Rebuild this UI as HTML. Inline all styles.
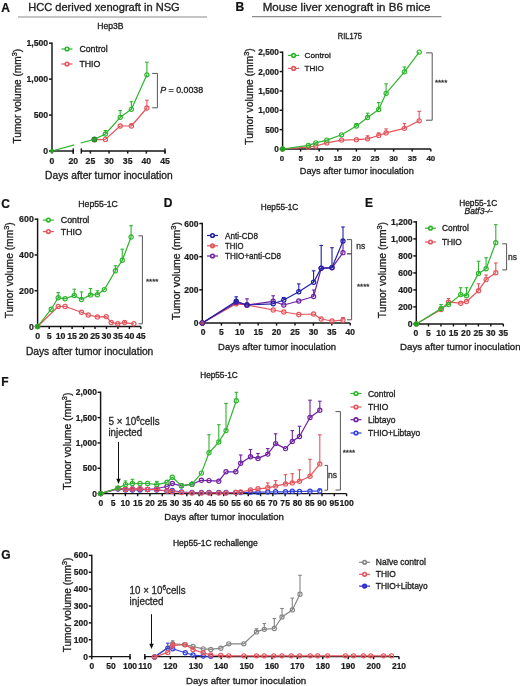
<!DOCTYPE html>
<html><head><meta charset="utf-8"><title>Figure</title>
<style>
html,body{margin:0;padding:0;background:#fff;}
body{width:520px;height:686px;overflow:hidden;}
svg{display:block;filter:blur(0.45px);}
text{font-family:"Liberation Sans", Arial, Helvetica, sans-serif;}
</style></head>
<body>
<svg width="520" height="686" viewBox="0 0 520 686">
<rect width="520" height="686" fill="#fff"/>
<text x="1.20" y="11.50" font-size="12" font-weight="bold" fill="#111" stroke="#111" stroke-width="0.22" >A</text>
<text x="28.20" y="10.80" font-size="11" fill="#222" stroke="#222" stroke-width="0.32" textLength="151.5" lengthAdjust="spacingAndGlyphs" >HCC derived xenograft in NSG</text>
<line x1="18.00" y1="17.00" x2="207.00" y2="17.00" stroke="#8c8c8c" stroke-width="1.1"/>
<text x="97.30" y="28.60" font-size="8.7" fill="#222" stroke="#222" stroke-width="0.32" textLength="26.3" lengthAdjust="spacingAndGlyphs" >Hep3B</text>
<line x1="52.00" y1="42.48" x2="52.00" y2="151.72" stroke="#141414" stroke-width="1.45"/>
<line x1="49.00" y1="151.00" x2="52.00" y2="151.00" stroke="#141414" stroke-width="1.45"/>
<text x="48.20" y="154.13" font-size="8.7" font-weight="bold" text-anchor="end" fill="#1e1e1e" stroke="#1e1e1e" stroke-width="0.22" >0</text>
<line x1="49.00" y1="115.07" x2="52.00" y2="115.07" stroke="#141414" stroke-width="1.45"/>
<text x="48.20" y="118.20" font-size="8.7" font-weight="bold" text-anchor="end" fill="#1e1e1e" stroke="#1e1e1e" stroke-width="0.22" >500</text>
<line x1="49.00" y1="79.13" x2="52.00" y2="79.13" stroke="#141414" stroke-width="1.45"/>
<text x="48.20" y="82.27" font-size="8.7" font-weight="bold" text-anchor="end" fill="#1e1e1e" stroke="#1e1e1e" stroke-width="0.22" >1,000</text>
<line x1="49.00" y1="43.20" x2="52.00" y2="43.20" stroke="#141414" stroke-width="1.45"/>
<text x="48.20" y="46.33" font-size="8.7" font-weight="bold" text-anchor="end" fill="#1e1e1e" stroke="#1e1e1e" stroke-width="0.22" >1,500</text>
<line x1="52.00" y1="151.00" x2="73.30" y2="151.00" stroke="#141414" stroke-width="1.45"/>
<line x1="52.00" y1="151.00" x2="52.00" y2="153.60" stroke="#141414" stroke-width="1.45"/>
<text x="52.00" y="163.80" font-size="8.7" font-weight="bold" text-anchor="middle" fill="#1e1e1e" stroke="#1e1e1e" stroke-width="0.22" >0</text>
<line x1="73.30" y1="151.00" x2="73.30" y2="153.60" stroke="#141414" stroke-width="1.45"/>
<text x="73.30" y="163.80" font-size="8.7" font-weight="bold" text-anchor="middle" fill="#1e1e1e" stroke="#1e1e1e" stroke-width="0.22" >20</text>
<line x1="73.30" y1="148.40" x2="73.30" y2="153.60" stroke="#141414" stroke-width="1.45"/>
<line x1="81.30" y1="151.00" x2="165.00" y2="151.00" stroke="#141414" stroke-width="1.45"/>
<line x1="90.40" y1="151.00" x2="90.40" y2="153.60" stroke="#141414" stroke-width="1.45"/>
<text x="90.40" y="163.80" font-size="8.7" font-weight="bold" text-anchor="middle" fill="#1e1e1e" stroke="#1e1e1e" stroke-width="0.22" >25</text>
<line x1="109.05" y1="151.00" x2="109.05" y2="153.60" stroke="#141414" stroke-width="1.45"/>
<text x="109.05" y="163.80" font-size="8.7" font-weight="bold" text-anchor="middle" fill="#1e1e1e" stroke="#1e1e1e" stroke-width="0.22" >30</text>
<line x1="127.70" y1="151.00" x2="127.70" y2="153.60" stroke="#141414" stroke-width="1.45"/>
<text x="127.70" y="163.80" font-size="8.7" font-weight="bold" text-anchor="middle" fill="#1e1e1e" stroke="#1e1e1e" stroke-width="0.22" >35</text>
<line x1="146.35" y1="151.00" x2="146.35" y2="153.60" stroke="#141414" stroke-width="1.45"/>
<text x="146.35" y="163.80" font-size="8.7" font-weight="bold" text-anchor="middle" fill="#1e1e1e" stroke="#1e1e1e" stroke-width="0.22" >40</text>
<line x1="165.00" y1="151.00" x2="165.00" y2="153.60" stroke="#141414" stroke-width="1.45"/>
<text x="165.00" y="163.80" font-size="8.7" font-weight="bold" text-anchor="middle" fill="#1e1e1e" stroke="#1e1e1e" stroke-width="0.22" >45</text>
<line x1="81.30" y1="148.40" x2="81.30" y2="153.60" stroke="#141414" stroke-width="1.45"/>
<line x1="165.00" y1="148.40" x2="165.00" y2="153.60" stroke="#141414" stroke-width="1.45"/>
<text x="21.00" y="96.20" font-size="10.2" text-anchor="middle" fill="#1e1e1e" stroke="#1e1e1e" stroke-width="0.32" textLength="94.5" lengthAdjust="spacingAndGlyphs" transform="rotate(-90 21.00 96.20)" >Tumor volume (mm<tspan font-size="7.3" dy="-3.9">3</tspan><tspan dy="3.9">)</tspan></text>
<text x="45.10" y="178.90" font-size="10.3" fill="#1e1e1e" stroke="#1e1e1e" stroke-width="0.32" textLength="127.5" lengthAdjust="spacingAndGlyphs" >Days after tumor inoculation</text>
<line x1="61.50" y1="49.00" x2="72.50" y2="49.00" stroke="#2db52d" stroke-width="1.2"/>
<circle cx="67.00" cy="49.00" r="1.8" fill="#fff" stroke="#2db52d" stroke-width="1.6"/>
<text x="79.40" y="52.17" font-size="8.8" fill="#1e1e1e" stroke="#1e1e1e" stroke-width="0.32" textLength="28.3" lengthAdjust="spacingAndGlyphs" >Control</text>
<line x1="61.50" y1="64.00" x2="72.50" y2="64.00" stroke="#e5545c" stroke-width="1.2"/>
<circle cx="67.00" cy="64.00" r="1.8" fill="#fff" stroke="#e5545c" stroke-width="1.6"/>
<text x="79.40" y="67.17" font-size="8.8" fill="#1e1e1e" stroke="#1e1e1e" stroke-width="0.32" >THIO</text>
<polyline points="52.00,151.00 74.30,144.90" fill="none" stroke="#2db52d" stroke-width="1.2" stroke-linejoin="round"/>
<polyline points="80.60,143.00 94.40,139.40" fill="none" stroke="#2db52d" stroke-width="1.2" stroke-linejoin="round"/>
<polyline points="94.40,139.80 105.40,139.40 120.20,126.00 131.40,126.00 146.90,108.00" fill="none" stroke="#e5545c" stroke-width="1.2" stroke-linejoin="round"/>
<line x1="131.40" y1="126.00" x2="131.40" y2="123.80" stroke="#e5545c" stroke-width="1.1"/>
<line x1="129.60" y1="123.80" x2="133.20" y2="123.80" stroke="#e5545c" stroke-width="1.1"/>
<line x1="146.90" y1="108.00" x2="146.90" y2="100.20" stroke="#e5545c" stroke-width="1.1"/>
<line x1="145.10" y1="100.20" x2="148.70" y2="100.20" stroke="#e5545c" stroke-width="1.1"/>
<circle cx="94.40" cy="139.80" r="2.1" fill="none" stroke="#e5545c" stroke-width="1.15"/>
<circle cx="105.40" cy="139.40" r="2.1" fill="none" stroke="#e5545c" stroke-width="1.15"/>
<circle cx="120.20" cy="126.00" r="2.1" fill="none" stroke="#e5545c" stroke-width="1.15"/>
<circle cx="131.40" cy="126.00" r="2.1" fill="none" stroke="#e5545c" stroke-width="1.15"/>
<circle cx="146.90" cy="108.00" r="2.1" fill="none" stroke="#e5545c" stroke-width="1.15"/>
<polyline points="94.40,139.40 105.40,134.00 120.20,117.30 131.40,109.30 146.90,74.80" fill="none" stroke="#2db52d" stroke-width="1.2" stroke-linejoin="round"/>
<line x1="105.40" y1="134.00" x2="105.40" y2="130.50" stroke="#2db52d" stroke-width="1.1"/>
<line x1="103.60" y1="130.50" x2="107.20" y2="130.50" stroke="#2db52d" stroke-width="1.1"/>
<line x1="120.20" y1="117.30" x2="120.20" y2="110.60" stroke="#2db52d" stroke-width="1.1"/>
<line x1="118.40" y1="110.60" x2="122.00" y2="110.60" stroke="#2db52d" stroke-width="1.1"/>
<line x1="131.40" y1="109.30" x2="131.40" y2="101.70" stroke="#2db52d" stroke-width="1.1"/>
<line x1="129.60" y1="101.70" x2="133.20" y2="101.70" stroke="#2db52d" stroke-width="1.1"/>
<line x1="146.90" y1="74.80" x2="146.90" y2="62.20" stroke="#2db52d" stroke-width="1.1"/>
<line x1="145.10" y1="62.20" x2="148.70" y2="62.20" stroke="#2db52d" stroke-width="1.1"/>
<circle cx="94.40" cy="139.40" r="2.1" fill="none" stroke="#2db52d" stroke-width="1.15"/>
<circle cx="105.40" cy="134.00" r="2.1" fill="none" stroke="#2db52d" stroke-width="1.15"/>
<circle cx="120.20" cy="117.30" r="2.1" fill="none" stroke="#2db52d" stroke-width="1.15"/>
<circle cx="131.40" cy="109.30" r="2.1" fill="none" stroke="#2db52d" stroke-width="1.15"/>
<circle cx="146.90" cy="74.80" r="2.1" fill="none" stroke="#2db52d" stroke-width="1.15"/>
<circle cx="52.00" cy="151.00" r="1.7" fill="#2aa02a" stroke="#1f9a1f" stroke-width="1.0"/>
<circle cx="94.40" cy="139.40" r="2.3" fill="#3a9a3a" stroke="#2a8a2a" stroke-width="1.15"/>
<polyline points="152.20,73.40 157.40,73.40 157.40,107.80 152.20,107.80" fill="none" stroke="#555" stroke-width="1.0"/>
<text x="160.20" y="92.80" font-size="9" fill="#1e1e1e" stroke="#1e1e1e" stroke-width="0.32" textLength="43" lengthAdjust="spacingAndGlyphs" ><tspan font-style="italic">P</tspan> = 0.0038</text>
<text x="235.60" y="11.00" font-size="12" font-weight="bold" fill="#111" stroke="#111" stroke-width="0.22" >B</text>
<text x="262.70" y="10.80" font-size="11" fill="#222" stroke="#222" stroke-width="0.32" textLength="167.8" lengthAdjust="spacingAndGlyphs" >Mouse liver xenograft in B6 mice</text>
<line x1="252.00" y1="16.60" x2="441.50" y2="16.60" stroke="#8c8c8c" stroke-width="1.1"/>
<text x="337.70" y="39.40" font-size="8.2" fill="#222" stroke="#222" stroke-width="0.32" textLength="24.3" lengthAdjust="spacingAndGlyphs" >RIL175</text>
<line x1="282.60" y1="51.48" x2="282.60" y2="149.72" stroke="#141414" stroke-width="1.45"/>
<line x1="279.60" y1="149.00" x2="282.60" y2="149.00" stroke="#141414" stroke-width="1.45"/>
<text x="278.80" y="151.95" font-size="8.2" font-weight="bold" text-anchor="end" fill="#1e1e1e" stroke="#1e1e1e" stroke-width="0.22" >0</text>
<line x1="279.60" y1="129.64" x2="282.60" y2="129.64" stroke="#141414" stroke-width="1.45"/>
<text x="278.80" y="132.59" font-size="8.2" font-weight="bold" text-anchor="end" fill="#1e1e1e" stroke="#1e1e1e" stroke-width="0.22" >500</text>
<line x1="279.60" y1="110.28" x2="282.60" y2="110.28" stroke="#141414" stroke-width="1.45"/>
<text x="278.80" y="113.23" font-size="8.2" font-weight="bold" text-anchor="end" fill="#1e1e1e" stroke="#1e1e1e" stroke-width="0.22" >1,000</text>
<line x1="279.60" y1="90.92" x2="282.60" y2="90.92" stroke="#141414" stroke-width="1.45"/>
<text x="278.80" y="93.87" font-size="8.2" font-weight="bold" text-anchor="end" fill="#1e1e1e" stroke="#1e1e1e" stroke-width="0.22" >1,500</text>
<line x1="279.60" y1="71.56" x2="282.60" y2="71.56" stroke="#141414" stroke-width="1.45"/>
<text x="278.80" y="74.51" font-size="8.2" font-weight="bold" text-anchor="end" fill="#1e1e1e" stroke="#1e1e1e" stroke-width="0.22" >2,000</text>
<line x1="279.60" y1="52.20" x2="282.60" y2="52.20" stroke="#141414" stroke-width="1.45"/>
<text x="278.80" y="55.15" font-size="8.2" font-weight="bold" text-anchor="end" fill="#1e1e1e" stroke="#1e1e1e" stroke-width="0.22" >2,500</text>
<line x1="282.60" y1="149.00" x2="430.80" y2="149.00" stroke="#141414" stroke-width="1.45"/>
<line x1="282.00" y1="149.00" x2="282.00" y2="151.60" stroke="#141414" stroke-width="1.45"/>
<text x="282.00" y="160.90" font-size="7.9" font-weight="bold" text-anchor="middle" fill="#1e1e1e" stroke="#1e1e1e" stroke-width="0.22" >0</text>
<line x1="300.60" y1="149.00" x2="300.60" y2="151.60" stroke="#141414" stroke-width="1.45"/>
<text x="300.60" y="160.90" font-size="7.9" font-weight="bold" text-anchor="middle" fill="#1e1e1e" stroke="#1e1e1e" stroke-width="0.22" >5</text>
<line x1="319.20" y1="149.00" x2="319.20" y2="151.60" stroke="#141414" stroke-width="1.45"/>
<text x="319.20" y="160.90" font-size="7.9" font-weight="bold" text-anchor="middle" fill="#1e1e1e" stroke="#1e1e1e" stroke-width="0.22" >10</text>
<line x1="337.80" y1="149.00" x2="337.80" y2="151.60" stroke="#141414" stroke-width="1.45"/>
<text x="337.80" y="160.90" font-size="7.9" font-weight="bold" text-anchor="middle" fill="#1e1e1e" stroke="#1e1e1e" stroke-width="0.22" >15</text>
<line x1="356.40" y1="149.00" x2="356.40" y2="151.60" stroke="#141414" stroke-width="1.45"/>
<text x="356.40" y="160.90" font-size="7.9" font-weight="bold" text-anchor="middle" fill="#1e1e1e" stroke="#1e1e1e" stroke-width="0.22" >20</text>
<line x1="375.00" y1="149.00" x2="375.00" y2="151.60" stroke="#141414" stroke-width="1.45"/>
<text x="375.00" y="160.90" font-size="7.9" font-weight="bold" text-anchor="middle" fill="#1e1e1e" stroke="#1e1e1e" stroke-width="0.22" >25</text>
<line x1="393.60" y1="149.00" x2="393.60" y2="151.60" stroke="#141414" stroke-width="1.45"/>
<text x="393.60" y="160.90" font-size="7.9" font-weight="bold" text-anchor="middle" fill="#1e1e1e" stroke="#1e1e1e" stroke-width="0.22" >30</text>
<line x1="412.20" y1="149.00" x2="412.20" y2="151.60" stroke="#141414" stroke-width="1.45"/>
<text x="412.20" y="160.90" font-size="7.9" font-weight="bold" text-anchor="middle" fill="#1e1e1e" stroke="#1e1e1e" stroke-width="0.22" >35</text>
<line x1="430.80" y1="149.00" x2="430.80" y2="151.60" stroke="#141414" stroke-width="1.45"/>
<text x="430.80" y="160.90" font-size="7.9" font-weight="bold" text-anchor="middle" fill="#1e1e1e" stroke="#1e1e1e" stroke-width="0.22" >40</text>
<text x="253.20" y="96.50" font-size="10.2" text-anchor="middle" fill="#1e1e1e" stroke="#1e1e1e" stroke-width="0.32" textLength="96.5" lengthAdjust="spacingAndGlyphs" transform="rotate(-90 253.20 96.50)" >Tumor volume (mm<tspan font-size="7.3" dy="-3.9">3</tspan><tspan dy="3.9">)</tspan></text>
<text x="299.80" y="174.40" font-size="9.2" fill="#1e1e1e" stroke="#1e1e1e" stroke-width="0.32" textLength="114.0" lengthAdjust="spacingAndGlyphs" >Days after tumor inoculation</text>
<line x1="288.10" y1="55.40" x2="299.10" y2="55.40" stroke="#2db52d" stroke-width="1.2"/>
<circle cx="293.60" cy="55.40" r="1.8" fill="#fff" stroke="#2db52d" stroke-width="1.6"/>
<text x="304.50" y="58.32" font-size="8.1" fill="#1e1e1e" stroke="#1e1e1e" stroke-width="0.32" textLength="26.3" lengthAdjust="spacingAndGlyphs" >Control</text>
<line x1="288.10" y1="68.40" x2="299.10" y2="68.40" stroke="#e5545c" stroke-width="1.2"/>
<circle cx="293.60" cy="68.40" r="1.8" fill="#fff" stroke="#e5545c" stroke-width="1.6"/>
<text x="304.50" y="71.32" font-size="8.1" fill="#1e1e1e" stroke="#1e1e1e" stroke-width="0.32" >THIO</text>
<polyline points="282.60,149.00 308.40,147.20 315.80,146.00 326.80,142.90 341.60,140.10 356.40,139.70 367.60,138.80 378.70,135.50 386.10,132.90 404.40,128.30 419.20,120.80" fill="none" stroke="#e5545c" stroke-width="1.2" stroke-linejoin="round"/>
<line x1="367.60" y1="138.80" x2="367.60" y2="135.80" stroke="#e5545c" stroke-width="1.1"/>
<line x1="365.80" y1="135.80" x2="369.40" y2="135.80" stroke="#e5545c" stroke-width="1.1"/>
<line x1="378.70" y1="135.50" x2="378.70" y2="132.90" stroke="#e5545c" stroke-width="1.1"/>
<line x1="376.90" y1="132.90" x2="380.50" y2="132.90" stroke="#e5545c" stroke-width="1.1"/>
<line x1="386.10" y1="132.90" x2="386.10" y2="128.90" stroke="#e5545c" stroke-width="1.1"/>
<line x1="384.30" y1="128.90" x2="387.90" y2="128.90" stroke="#e5545c" stroke-width="1.1"/>
<line x1="404.40" y1="128.30" x2="404.40" y2="123.50" stroke="#e5545c" stroke-width="1.1"/>
<line x1="402.60" y1="123.50" x2="406.20" y2="123.50" stroke="#e5545c" stroke-width="1.1"/>
<line x1="419.20" y1="120.80" x2="419.20" y2="111.30" stroke="#e5545c" stroke-width="1.1"/>
<line x1="417.40" y1="111.30" x2="421.00" y2="111.30" stroke="#e5545c" stroke-width="1.1"/>
<circle cx="282.60" cy="149.00" r="2.1" fill="none" stroke="#e5545c" stroke-width="1.15"/>
<circle cx="308.40" cy="147.20" r="2.1" fill="none" stroke="#e5545c" stroke-width="1.15"/>
<circle cx="315.80" cy="146.00" r="2.1" fill="none" stroke="#e5545c" stroke-width="1.15"/>
<circle cx="326.80" cy="142.90" r="2.1" fill="none" stroke="#e5545c" stroke-width="1.15"/>
<circle cx="341.60" cy="140.10" r="2.1" fill="none" stroke="#e5545c" stroke-width="1.15"/>
<circle cx="356.40" cy="139.70" r="2.1" fill="none" stroke="#e5545c" stroke-width="1.15"/>
<circle cx="367.60" cy="138.80" r="2.1" fill="none" stroke="#e5545c" stroke-width="1.15"/>
<circle cx="378.70" cy="135.50" r="2.1" fill="none" stroke="#e5545c" stroke-width="1.15"/>
<circle cx="386.10" cy="132.90" r="2.1" fill="none" stroke="#e5545c" stroke-width="1.15"/>
<circle cx="404.40" cy="128.30" r="2.1" fill="none" stroke="#e5545c" stroke-width="1.15"/>
<circle cx="419.20" cy="120.80" r="2.1" fill="none" stroke="#e5545c" stroke-width="1.15"/>
<polyline points="282.60,149.00 308.40,145.40 315.80,142.90 326.80,140.10 341.60,134.80 356.40,126.00 367.60,117.50 378.70,109.50 386.10,93.30 404.40,71.80 419.20,52.10" fill="none" stroke="#2db52d" stroke-width="1.2" stroke-linejoin="round"/>
<line x1="356.40" y1="126.00" x2="356.40" y2="123.50" stroke="#2db52d" stroke-width="1.1"/>
<line x1="354.60" y1="123.50" x2="358.20" y2="123.50" stroke="#2db52d" stroke-width="1.1"/>
<line x1="367.60" y1="117.50" x2="367.60" y2="113.20" stroke="#2db52d" stroke-width="1.1"/>
<line x1="365.80" y1="113.20" x2="369.40" y2="113.20" stroke="#2db52d" stroke-width="1.1"/>
<line x1="378.70" y1="109.50" x2="378.70" y2="102.50" stroke="#2db52d" stroke-width="1.1"/>
<line x1="376.90" y1="102.50" x2="380.50" y2="102.50" stroke="#2db52d" stroke-width="1.1"/>
<line x1="386.10" y1="93.30" x2="386.10" y2="83.90" stroke="#2db52d" stroke-width="1.1"/>
<line x1="384.30" y1="83.90" x2="387.90" y2="83.90" stroke="#2db52d" stroke-width="1.1"/>
<line x1="404.40" y1="71.80" x2="404.40" y2="67.00" stroke="#2db52d" stroke-width="1.1"/>
<line x1="402.60" y1="67.00" x2="406.20" y2="67.00" stroke="#2db52d" stroke-width="1.1"/>
<circle cx="282.60" cy="149.00" r="2.1" fill="none" stroke="#2db52d" stroke-width="1.15"/>
<circle cx="308.40" cy="145.40" r="2.1" fill="none" stroke="#2db52d" stroke-width="1.15"/>
<circle cx="315.80" cy="142.90" r="2.1" fill="none" stroke="#2db52d" stroke-width="1.15"/>
<circle cx="326.80" cy="140.10" r="2.1" fill="none" stroke="#2db52d" stroke-width="1.15"/>
<circle cx="341.60" cy="134.80" r="2.1" fill="none" stroke="#2db52d" stroke-width="1.15"/>
<circle cx="356.40" cy="126.00" r="2.1" fill="none" stroke="#2db52d" stroke-width="1.15"/>
<circle cx="367.60" cy="117.50" r="2.1" fill="none" stroke="#2db52d" stroke-width="1.15"/>
<circle cx="378.70" cy="109.50" r="2.1" fill="none" stroke="#2db52d" stroke-width="1.15"/>
<circle cx="386.10" cy="93.30" r="2.1" fill="none" stroke="#2db52d" stroke-width="1.15"/>
<circle cx="404.40" cy="71.80" r="2.1" fill="none" stroke="#2db52d" stroke-width="1.15"/>
<circle cx="419.20" cy="52.10" r="2.1" fill="none" stroke="#2db52d" stroke-width="1.15"/>
<circle cx="282.60" cy="149.00" r="1.7" fill="#2aa02a" stroke="#1f9a1f" stroke-width="1.0"/>
<polyline points="426.00,52.90 432.20,52.90 432.20,120.20 426.00,120.20" fill="none" stroke="#555" stroke-width="1.0"/>
<text x="434.90" y="84.50" font-size="8" fill="#333" stroke="#333" stroke-width="0.32" >****</text>
<text x="1.20" y="207.60" font-size="12" font-weight="bold" fill="#111" stroke="#111" stroke-width="0.22" >C</text>
<text x="78.30" y="206.90" font-size="8.7" fill="#222" stroke="#222" stroke-width="0.32" textLength="39.6" lengthAdjust="spacingAndGlyphs" >Hep55-1C</text>
<line x1="37.60" y1="218.47" x2="37.60" y2="327.23" stroke="#141414" stroke-width="1.45"/>
<line x1="34.60" y1="326.50" x2="37.60" y2="326.50" stroke="#141414" stroke-width="1.45"/>
<text x="33.80" y="329.67" font-size="8.8" font-weight="bold" text-anchor="end" fill="#1e1e1e" stroke="#1e1e1e" stroke-width="0.22" >0</text>
<line x1="34.60" y1="290.73" x2="37.60" y2="290.73" stroke="#141414" stroke-width="1.45"/>
<text x="33.80" y="293.90" font-size="8.8" font-weight="bold" text-anchor="end" fill="#1e1e1e" stroke="#1e1e1e" stroke-width="0.22" >200</text>
<line x1="34.60" y1="254.97" x2="37.60" y2="254.97" stroke="#141414" stroke-width="1.45"/>
<text x="33.80" y="258.13" font-size="8.8" font-weight="bold" text-anchor="end" fill="#1e1e1e" stroke="#1e1e1e" stroke-width="0.22" >400</text>
<line x1="34.60" y1="219.20" x2="37.60" y2="219.20" stroke="#141414" stroke-width="1.45"/>
<text x="33.80" y="222.37" font-size="8.8" font-weight="bold" text-anchor="end" fill="#1e1e1e" stroke="#1e1e1e" stroke-width="0.22" >600</text>
<line x1="37.60" y1="326.50" x2="140.88" y2="326.50" stroke="#141414" stroke-width="1.45"/>
<line x1="37.70" y1="326.50" x2="37.70" y2="329.10" stroke="#141414" stroke-width="1.45"/>
<text x="37.70" y="339.20" font-size="8.8" font-weight="bold" text-anchor="middle" fill="#1e1e1e" stroke="#1e1e1e" stroke-width="0.22" >0</text>
<line x1="49.17" y1="326.50" x2="49.17" y2="329.10" stroke="#141414" stroke-width="1.45"/>
<text x="49.17" y="339.20" font-size="8.8" font-weight="bold" text-anchor="middle" fill="#1e1e1e" stroke="#1e1e1e" stroke-width="0.22" >5</text>
<line x1="60.63" y1="326.50" x2="60.63" y2="329.10" stroke="#141414" stroke-width="1.45"/>
<text x="60.63" y="339.20" font-size="8.8" font-weight="bold" text-anchor="middle" fill="#1e1e1e" stroke="#1e1e1e" stroke-width="0.22" >10</text>
<line x1="72.09" y1="326.50" x2="72.09" y2="329.10" stroke="#141414" stroke-width="1.45"/>
<text x="72.09" y="339.20" font-size="8.8" font-weight="bold" text-anchor="middle" fill="#1e1e1e" stroke="#1e1e1e" stroke-width="0.22" >15</text>
<line x1="83.56" y1="326.50" x2="83.56" y2="329.10" stroke="#141414" stroke-width="1.45"/>
<text x="83.56" y="339.20" font-size="8.8" font-weight="bold" text-anchor="middle" fill="#1e1e1e" stroke="#1e1e1e" stroke-width="0.22" >20</text>
<line x1="95.03" y1="326.50" x2="95.03" y2="329.10" stroke="#141414" stroke-width="1.45"/>
<text x="95.03" y="339.20" font-size="8.8" font-weight="bold" text-anchor="middle" fill="#1e1e1e" stroke="#1e1e1e" stroke-width="0.22" >25</text>
<line x1="106.49" y1="326.50" x2="106.49" y2="329.10" stroke="#141414" stroke-width="1.45"/>
<text x="106.49" y="339.20" font-size="8.8" font-weight="bold" text-anchor="middle" fill="#1e1e1e" stroke="#1e1e1e" stroke-width="0.22" >30</text>
<line x1="117.96" y1="326.50" x2="117.96" y2="329.10" stroke="#141414" stroke-width="1.45"/>
<text x="117.96" y="339.20" font-size="8.8" font-weight="bold" text-anchor="middle" fill="#1e1e1e" stroke="#1e1e1e" stroke-width="0.22" >35</text>
<line x1="129.42" y1="326.50" x2="129.42" y2="329.10" stroke="#141414" stroke-width="1.45"/>
<text x="129.42" y="339.20" font-size="8.8" font-weight="bold" text-anchor="middle" fill="#1e1e1e" stroke="#1e1e1e" stroke-width="0.22" >40</text>
<line x1="140.88" y1="326.50" x2="140.88" y2="329.10" stroke="#141414" stroke-width="1.45"/>
<text x="140.88" y="339.20" font-size="8.8" font-weight="bold" text-anchor="middle" fill="#1e1e1e" stroke="#1e1e1e" stroke-width="0.22" >45</text>
<text x="13.20" y="270.30" font-size="10.2" text-anchor="middle" fill="#1e1e1e" stroke="#1e1e1e" stroke-width="0.32" textLength="96.0" lengthAdjust="spacingAndGlyphs" transform="rotate(-90 13.20 270.30)" >Tumor volume (mm<tspan font-size="7.3" dy="-3.9">3</tspan><tspan dy="3.9">)</tspan></text>
<text x="25.90" y="355.30" font-size="10.2" fill="#1e1e1e" stroke="#1e1e1e" stroke-width="0.32" textLength="127.4" lengthAdjust="spacingAndGlyphs" >Days after tumor inoculation</text>
<line x1="42.90" y1="220.10" x2="53.90" y2="220.10" stroke="#2db52d" stroke-width="1.2"/>
<circle cx="48.40" cy="220.10" r="1.8" fill="#fff" stroke="#2db52d" stroke-width="1.6"/>
<text x="60.80" y="223.27" font-size="8.8" fill="#1e1e1e" stroke="#1e1e1e" stroke-width="0.32" textLength="28.5" lengthAdjust="spacingAndGlyphs" >Control</text>
<line x1="42.90" y1="231.60" x2="53.90" y2="231.60" stroke="#e5545c" stroke-width="1.2"/>
<circle cx="48.40" cy="231.60" r="1.8" fill="#fff" stroke="#e5545c" stroke-width="1.6"/>
<text x="60.80" y="234.77" font-size="8.8" fill="#1e1e1e" stroke="#1e1e1e" stroke-width="0.32" >THIO</text>
<polyline points="37.60,326.50 58.20,306.50 65.10,306.50 81.50,312.20 88.20,315.00 97.40,316.90 106.20,316.60 111.20,322.40 117.70,323.80 124.60,322.60 133.90,323.80" fill="none" stroke="#e5545c" stroke-width="1.2" stroke-linejoin="round"/>
<line x1="124.60" y1="322.60" x2="124.60" y2="320.50" stroke="#e5545c" stroke-width="1.1"/>
<line x1="122.80" y1="320.50" x2="126.40" y2="320.50" stroke="#e5545c" stroke-width="1.1"/>
<circle cx="37.60" cy="326.50" r="2.1" fill="none" stroke="#e5545c" stroke-width="1.15"/>
<circle cx="58.20" cy="306.50" r="2.1" fill="none" stroke="#e5545c" stroke-width="1.15"/>
<circle cx="65.10" cy="306.50" r="2.1" fill="none" stroke="#e5545c" stroke-width="1.15"/>
<circle cx="81.50" cy="312.20" r="2.1" fill="none" stroke="#e5545c" stroke-width="1.15"/>
<circle cx="88.20" cy="315.00" r="2.1" fill="none" stroke="#e5545c" stroke-width="1.15"/>
<circle cx="97.40" cy="316.90" r="2.1" fill="none" stroke="#e5545c" stroke-width="1.15"/>
<circle cx="106.20" cy="316.60" r="2.1" fill="none" stroke="#e5545c" stroke-width="1.15"/>
<circle cx="111.20" cy="322.40" r="2.1" fill="none" stroke="#e5545c" stroke-width="1.15"/>
<circle cx="117.70" cy="323.80" r="2.1" fill="none" stroke="#e5545c" stroke-width="1.15"/>
<circle cx="124.60" cy="322.60" r="2.1" fill="none" stroke="#e5545c" stroke-width="1.15"/>
<circle cx="133.90" cy="323.80" r="2.1" fill="none" stroke="#e5545c" stroke-width="1.15"/>
<polyline points="37.60,326.50 51.20,309.20 58.20,297.70 65.10,298.80 74.30,295.40 81.50,299.50 90.50,294.90 97.40,294.70 104.30,289.60 115.40,270.70 122.30,260.30 131.10,237.00" fill="none" stroke="#2db52d" stroke-width="1.2" stroke-linejoin="round"/>
<line x1="58.20" y1="297.70" x2="58.20" y2="292.60" stroke="#2db52d" stroke-width="1.1"/>
<line x1="56.40" y1="292.60" x2="60.00" y2="292.60" stroke="#2db52d" stroke-width="1.1"/>
<line x1="74.30" y1="295.40" x2="74.30" y2="289.20" stroke="#2db52d" stroke-width="1.1"/>
<line x1="72.50" y1="289.20" x2="76.10" y2="289.20" stroke="#2db52d" stroke-width="1.1"/>
<line x1="81.50" y1="299.50" x2="81.50" y2="291.90" stroke="#2db52d" stroke-width="1.1"/>
<line x1="79.70" y1="291.90" x2="83.30" y2="291.90" stroke="#2db52d" stroke-width="1.1"/>
<line x1="90.50" y1="294.90" x2="90.50" y2="288.50" stroke="#2db52d" stroke-width="1.1"/>
<line x1="88.70" y1="288.50" x2="92.30" y2="288.50" stroke="#2db52d" stroke-width="1.1"/>
<line x1="97.40" y1="294.70" x2="97.40" y2="290.80" stroke="#2db52d" stroke-width="1.1"/>
<line x1="95.60" y1="290.80" x2="99.20" y2="290.80" stroke="#2db52d" stroke-width="1.1"/>
<line x1="115.40" y1="270.70" x2="115.40" y2="265.80" stroke="#2db52d" stroke-width="1.1"/>
<line x1="113.60" y1="265.80" x2="117.20" y2="265.80" stroke="#2db52d" stroke-width="1.1"/>
<line x1="122.30" y1="260.30" x2="122.30" y2="249.20" stroke="#2db52d" stroke-width="1.1"/>
<line x1="120.50" y1="249.20" x2="124.10" y2="249.20" stroke="#2db52d" stroke-width="1.1"/>
<line x1="131.10" y1="237.00" x2="131.10" y2="225.70" stroke="#2db52d" stroke-width="1.1"/>
<line x1="129.30" y1="225.70" x2="132.90" y2="225.70" stroke="#2db52d" stroke-width="1.1"/>
<circle cx="37.60" cy="326.50" r="2.1" fill="none" stroke="#2db52d" stroke-width="1.15"/>
<circle cx="51.20" cy="309.20" r="2.1" fill="none" stroke="#2db52d" stroke-width="1.15"/>
<circle cx="58.20" cy="297.70" r="2.1" fill="none" stroke="#2db52d" stroke-width="1.15"/>
<circle cx="65.10" cy="298.80" r="2.1" fill="none" stroke="#2db52d" stroke-width="1.15"/>
<circle cx="74.30" cy="295.40" r="2.1" fill="none" stroke="#2db52d" stroke-width="1.15"/>
<circle cx="81.50" cy="299.50" r="2.1" fill="none" stroke="#2db52d" stroke-width="1.15"/>
<circle cx="90.50" cy="294.90" r="2.1" fill="none" stroke="#2db52d" stroke-width="1.15"/>
<circle cx="97.40" cy="294.70" r="2.1" fill="none" stroke="#2db52d" stroke-width="1.15"/>
<circle cx="104.30" cy="289.60" r="2.1" fill="none" stroke="#2db52d" stroke-width="1.15"/>
<circle cx="115.40" cy="270.70" r="2.1" fill="none" stroke="#2db52d" stroke-width="1.15"/>
<circle cx="122.30" cy="260.30" r="2.1" fill="none" stroke="#2db52d" stroke-width="1.15"/>
<circle cx="131.10" cy="237.00" r="2.1" fill="none" stroke="#2db52d" stroke-width="1.15"/>
<circle cx="37.60" cy="326.50" r="1.7" fill="#2aa02a" stroke="#1f9a1f" stroke-width="1.0"/>
<polyline points="138.50,235.80 142.40,235.80 142.40,323.80 138.50,323.80" fill="none" stroke="#555" stroke-width="1.0"/>
<text x="146.00" y="284.00" font-size="8" fill="#333" stroke="#333" stroke-width="0.32" >****</text>
<text x="163.80" y="207.40" font-size="12" font-weight="bold" fill="#111" stroke="#111" stroke-width="0.22" >D</text>
<text x="260.80" y="210.20" font-size="8.3" fill="#222" stroke="#222" stroke-width="0.32" textLength="37.5" lengthAdjust="spacingAndGlyphs" >Hep55-1C</text>
<line x1="202.30" y1="222.78" x2="202.30" y2="323.73" stroke="#141414" stroke-width="1.45"/>
<line x1="199.30" y1="323.00" x2="202.30" y2="323.00" stroke="#141414" stroke-width="1.45"/>
<text x="198.50" y="326.06" font-size="8.5" font-weight="bold" text-anchor="end" fill="#1e1e1e" stroke="#1e1e1e" stroke-width="0.22" >0</text>
<line x1="199.30" y1="289.83" x2="202.30" y2="289.83" stroke="#141414" stroke-width="1.45"/>
<text x="198.50" y="292.89" font-size="8.5" font-weight="bold" text-anchor="end" fill="#1e1e1e" stroke="#1e1e1e" stroke-width="0.22" >200</text>
<line x1="199.30" y1="256.67" x2="202.30" y2="256.67" stroke="#141414" stroke-width="1.45"/>
<text x="198.50" y="259.73" font-size="8.5" font-weight="bold" text-anchor="end" fill="#1e1e1e" stroke="#1e1e1e" stroke-width="0.22" >400</text>
<line x1="199.30" y1="223.50" x2="202.30" y2="223.50" stroke="#141414" stroke-width="1.45"/>
<text x="198.50" y="226.56" font-size="8.5" font-weight="bold" text-anchor="end" fill="#1e1e1e" stroke="#1e1e1e" stroke-width="0.22" >600</text>
<line x1="202.30" y1="323.00" x2="350.20" y2="323.00" stroke="#141414" stroke-width="1.45"/>
<line x1="203.00" y1="323.00" x2="203.00" y2="325.60" stroke="#141414" stroke-width="1.45"/>
<text x="203.00" y="334.90" font-size="8.5" font-weight="bold" text-anchor="middle" fill="#1e1e1e" stroke="#1e1e1e" stroke-width="0.22" >0</text>
<line x1="221.40" y1="323.00" x2="221.40" y2="325.60" stroke="#141414" stroke-width="1.45"/>
<text x="221.40" y="334.90" font-size="8.5" font-weight="bold" text-anchor="middle" fill="#1e1e1e" stroke="#1e1e1e" stroke-width="0.22" >5</text>
<line x1="239.80" y1="323.00" x2="239.80" y2="325.60" stroke="#141414" stroke-width="1.45"/>
<text x="239.80" y="334.90" font-size="8.5" font-weight="bold" text-anchor="middle" fill="#1e1e1e" stroke="#1e1e1e" stroke-width="0.22" >10</text>
<line x1="258.20" y1="323.00" x2="258.20" y2="325.60" stroke="#141414" stroke-width="1.45"/>
<text x="258.20" y="334.90" font-size="8.5" font-weight="bold" text-anchor="middle" fill="#1e1e1e" stroke="#1e1e1e" stroke-width="0.22" >15</text>
<line x1="276.60" y1="323.00" x2="276.60" y2="325.60" stroke="#141414" stroke-width="1.45"/>
<text x="276.60" y="334.90" font-size="8.5" font-weight="bold" text-anchor="middle" fill="#1e1e1e" stroke="#1e1e1e" stroke-width="0.22" >20</text>
<line x1="295.00" y1="323.00" x2="295.00" y2="325.60" stroke="#141414" stroke-width="1.45"/>
<text x="295.00" y="334.90" font-size="8.5" font-weight="bold" text-anchor="middle" fill="#1e1e1e" stroke="#1e1e1e" stroke-width="0.22" >25</text>
<line x1="313.40" y1="323.00" x2="313.40" y2="325.60" stroke="#141414" stroke-width="1.45"/>
<text x="313.40" y="334.90" font-size="8.5" font-weight="bold" text-anchor="middle" fill="#1e1e1e" stroke="#1e1e1e" stroke-width="0.22" >30</text>
<line x1="331.80" y1="323.00" x2="331.80" y2="325.60" stroke="#141414" stroke-width="1.45"/>
<text x="331.80" y="334.90" font-size="8.5" font-weight="bold" text-anchor="middle" fill="#1e1e1e" stroke="#1e1e1e" stroke-width="0.22" >35</text>
<line x1="350.20" y1="323.00" x2="350.20" y2="325.60" stroke="#141414" stroke-width="1.45"/>
<text x="350.20" y="334.90" font-size="8.5" font-weight="bold" text-anchor="middle" fill="#1e1e1e" stroke="#1e1e1e" stroke-width="0.22" >40</text>
<text x="180.00" y="271.00" font-size="10.2" text-anchor="middle" fill="#1e1e1e" stroke="#1e1e1e" stroke-width="0.32" textLength="98.0" lengthAdjust="spacingAndGlyphs" transform="rotate(-90 180.00 271.00)" >Tumor volume (mm<tspan font-size="7.3" dy="-3.9">3</tspan><tspan dy="3.9">)</tspan></text>
<text x="218.10" y="349.80" font-size="9.5" fill="#1e1e1e" stroke="#1e1e1e" stroke-width="0.32" textLength="118.0" lengthAdjust="spacingAndGlyphs" >Days after tumor inoculation</text>
<line x1="207.00" y1="235.50" x2="218.00" y2="235.50" stroke="#2020a8" stroke-width="1.2"/>
<circle cx="212.50" cy="235.50" r="1.8" fill="#fff" stroke="#2020a8" stroke-width="1.6"/>
<text x="225.10" y="238.74" font-size="9.0" fill="#1e1e1e" stroke="#1e1e1e" stroke-width="0.32" textLength="32.9" lengthAdjust="spacingAndGlyphs" >Anti-CD8</text>
<line x1="207.00" y1="245.80" x2="218.00" y2="245.80" stroke="#e5545c" stroke-width="1.2"/>
<circle cx="212.50" cy="245.80" r="1.8" fill="#ee8a8a" stroke="#e5545c" stroke-width="1.6"/>
<text x="225.10" y="249.04" font-size="9.0" fill="#1e1e1e" stroke="#1e1e1e" stroke-width="0.32" textLength="18.4" lengthAdjust="spacingAndGlyphs" >THIO</text>
<line x1="207.00" y1="256.00" x2="218.00" y2="256.00" stroke="#7020a0" stroke-width="1.2"/>
<circle cx="212.50" cy="256.00" r="1.8" fill="#fff" stroke="#7020a0" stroke-width="1.6"/>
<text x="225.10" y="259.24" font-size="9.0" fill="#1e1e1e" stroke="#1e1e1e" stroke-width="0.32" textLength="55.9" lengthAdjust="spacingAndGlyphs" >THIO+anti-CD8</text>
<polyline points="202.30,323.00 236.20,303.80 247.00,305.00 273.20,310.00 283.80,312.00 298.80,314.50 313.60,314.00 321.20,319.00 332.00,321.00 343.00,320.20" fill="none" stroke="#e5545c" stroke-width="1.2" stroke-linejoin="round"/>
<line x1="343.00" y1="320.20" x2="343.00" y2="317.50" stroke="#e5545c" stroke-width="1.1"/>
<line x1="341.20" y1="317.50" x2="344.80" y2="317.50" stroke="#e5545c" stroke-width="1.1"/>
<circle cx="202.30" cy="323.00" r="2.1" fill="none" stroke="#e5545c" stroke-width="1.15"/>
<circle cx="236.20" cy="303.80" r="2.1" fill="none" stroke="#e5545c" stroke-width="1.15"/>
<circle cx="247.00" cy="305.00" r="2.1" fill="none" stroke="#e5545c" stroke-width="1.15"/>
<circle cx="273.20" cy="310.00" r="2.1" fill="none" stroke="#e5545c" stroke-width="1.15"/>
<circle cx="283.80" cy="312.00" r="2.1" fill="none" stroke="#e5545c" stroke-width="1.15"/>
<circle cx="298.80" cy="314.50" r="2.1" fill="none" stroke="#e5545c" stroke-width="1.15"/>
<circle cx="313.60" cy="314.00" r="2.1" fill="none" stroke="#e5545c" stroke-width="1.15"/>
<circle cx="321.20" cy="319.00" r="2.1" fill="none" stroke="#e5545c" stroke-width="1.15"/>
<circle cx="332.00" cy="321.00" r="2.1" fill="none" stroke="#e5545c" stroke-width="1.15"/>
<circle cx="343.00" cy="320.20" r="2.1" fill="none" stroke="#e5545c" stroke-width="1.15"/>
<polyline points="202.30,323.00 236.20,302.50 247.00,305.00 273.20,301.30 283.80,305.00 298.80,301.00 313.60,296.50 321.20,268.30 332.00,267.80 343.00,252.70" fill="none" stroke="#7020a0" stroke-width="1.2" stroke-linejoin="round"/>
<line x1="247.00" y1="305.00" x2="247.00" y2="298.80" stroke="#7020a0" stroke-width="1.1"/>
<line x1="245.20" y1="298.80" x2="248.80" y2="298.80" stroke="#7020a0" stroke-width="1.1"/>
<line x1="273.20" y1="301.30" x2="273.20" y2="295.80" stroke="#7020a0" stroke-width="1.1"/>
<line x1="271.40" y1="295.80" x2="275.00" y2="295.80" stroke="#7020a0" stroke-width="1.1"/>
<line x1="313.60" y1="296.50" x2="313.60" y2="290.00" stroke="#7020a0" stroke-width="1.1"/>
<line x1="311.80" y1="290.00" x2="315.40" y2="290.00" stroke="#7020a0" stroke-width="1.1"/>
<line x1="343.00" y1="252.70" x2="343.00" y2="240.00" stroke="#7020a0" stroke-width="1.1"/>
<line x1="341.20" y1="240.00" x2="344.80" y2="240.00" stroke="#7020a0" stroke-width="1.1"/>
<circle cx="202.30" cy="323.00" r="2.1" fill="none" stroke="#7020a0" stroke-width="1.15"/>
<circle cx="236.20" cy="302.50" r="2.1" fill="none" stroke="#7020a0" stroke-width="1.15"/>
<circle cx="247.00" cy="305.00" r="2.1" fill="none" stroke="#7020a0" stroke-width="1.15"/>
<circle cx="273.20" cy="301.30" r="2.1" fill="none" stroke="#7020a0" stroke-width="1.15"/>
<circle cx="283.80" cy="305.00" r="2.1" fill="none" stroke="#7020a0" stroke-width="1.15"/>
<circle cx="298.80" cy="301.00" r="2.1" fill="none" stroke="#7020a0" stroke-width="1.15"/>
<circle cx="313.60" cy="296.50" r="2.1" fill="none" stroke="#7020a0" stroke-width="1.15"/>
<circle cx="321.20" cy="268.30" r="2.1" fill="none" stroke="#7020a0" stroke-width="1.15"/>
<circle cx="332.00" cy="267.80" r="2.1" fill="none" stroke="#7020a0" stroke-width="1.15"/>
<circle cx="343.00" cy="252.70" r="2.1" fill="none" stroke="#7020a0" stroke-width="1.15"/>
<polyline points="202.30,323.00 236.20,301.30 247.00,305.00 273.20,303.80 283.80,300.00 298.80,291.80 313.60,282.20 321.20,268.10 332.00,267.60 343.00,241.00" fill="none" stroke="#2020a8" stroke-width="1.2" stroke-linejoin="round"/>
<line x1="236.20" y1="301.30" x2="236.20" y2="296.80" stroke="#2020a8" stroke-width="1.1"/>
<line x1="234.40" y1="296.80" x2="238.00" y2="296.80" stroke="#2020a8" stroke-width="1.1"/>
<line x1="283.80" y1="300.00" x2="283.80" y2="297.50" stroke="#2020a8" stroke-width="1.1"/>
<line x1="282.00" y1="297.50" x2="285.60" y2="297.50" stroke="#2020a8" stroke-width="1.1"/>
<line x1="298.80" y1="291.80" x2="298.80" y2="283.90" stroke="#2020a8" stroke-width="1.1"/>
<line x1="297.00" y1="283.90" x2="300.60" y2="283.90" stroke="#2020a8" stroke-width="1.1"/>
<line x1="313.60" y1="282.20" x2="313.60" y2="270.80" stroke="#2020a8" stroke-width="1.1"/>
<line x1="311.80" y1="270.80" x2="315.40" y2="270.80" stroke="#2020a8" stroke-width="1.1"/>
<line x1="321.20" y1="268.10" x2="321.20" y2="245.40" stroke="#2020a8" stroke-width="1.1"/>
<line x1="319.40" y1="245.40" x2="323.00" y2="245.40" stroke="#2020a8" stroke-width="1.1"/>
<line x1="332.00" y1="267.60" x2="332.00" y2="247.70" stroke="#2020a8" stroke-width="1.1"/>
<line x1="330.20" y1="247.70" x2="333.80" y2="247.70" stroke="#2020a8" stroke-width="1.1"/>
<line x1="343.00" y1="241.00" x2="343.00" y2="227.00" stroke="#2020a8" stroke-width="1.1"/>
<line x1="341.20" y1="227.00" x2="344.80" y2="227.00" stroke="#2020a8" stroke-width="1.1"/>
<circle cx="202.30" cy="323.00" r="2.1" fill="none" stroke="#2020a8" stroke-width="1.15"/>
<circle cx="236.20" cy="301.30" r="2.1" fill="none" stroke="#2020a8" stroke-width="1.15"/>
<circle cx="247.00" cy="305.00" r="2.1" fill="none" stroke="#2020a8" stroke-width="1.15"/>
<circle cx="273.20" cy="303.80" r="2.1" fill="none" stroke="#2020a8" stroke-width="1.15"/>
<circle cx="283.80" cy="300.00" r="2.1" fill="none" stroke="#2020a8" stroke-width="1.15"/>
<circle cx="298.80" cy="291.80" r="2.1" fill="none" stroke="#2020a8" stroke-width="1.15"/>
<circle cx="313.60" cy="282.20" r="2.1" fill="none" stroke="#2020a8" stroke-width="1.15"/>
<circle cx="321.20" cy="268.10" r="2.1" fill="none" stroke="#2020a8" stroke-width="1.15"/>
<circle cx="332.00" cy="267.60" r="2.1" fill="none" stroke="#2020a8" stroke-width="1.15"/>
<circle cx="343.00" cy="241.00" r="2.1" fill="none" stroke="#2020a8" stroke-width="1.15"/>
<circle cx="202.30" cy="323.00" r="1.7" fill="#b05070" stroke="#a04060" stroke-width="1.0"/>
<polyline points="347.00,239.60 351.60,239.60 351.60,253.80 347.00,253.80" fill="none" stroke="#555" stroke-width="1.0"/>
<polyline points="347.00,253.80 351.60,253.80 351.60,319.80 347.00,319.80" fill="none" stroke="#555" stroke-width="1.0"/>
<text x="356.30" y="248.80" font-size="8.5" fill="#333" stroke="#333" stroke-width="0.32" >ns</text>
<text x="357.00" y="289.00" font-size="8" fill="#333" stroke="#333" stroke-width="0.32" >****</text>
<text x="365.00" y="207.30" font-size="12" font-weight="bold" fill="#111" stroke="#111" stroke-width="0.22" >E</text>
<text x="459.20" y="205.80" font-size="8.3" fill="#222" stroke="#222" stroke-width="0.32" textLength="38.0" lengthAdjust="spacingAndGlyphs" >Hep55-1C</text>
<text x="464.60" y="213.80" font-size="8.5" fill="#222" stroke="#222" stroke-width="0.32" font-style="italic" >Batf3<tspan font-size="6" dy="-0.5">–/–</tspan></text>
<line x1="416.30" y1="221.18" x2="416.30" y2="324.62" stroke="#141414" stroke-width="1.45"/>
<line x1="413.30" y1="323.90" x2="416.30" y2="323.90" stroke="#141414" stroke-width="1.45"/>
<text x="412.50" y="327.00" font-size="8.6" font-weight="bold" text-anchor="end" fill="#1e1e1e" stroke="#1e1e1e" stroke-width="0.22" >0</text>
<line x1="413.30" y1="306.90" x2="416.30" y2="306.90" stroke="#141414" stroke-width="1.45"/>
<text x="412.50" y="310.00" font-size="8.6" font-weight="bold" text-anchor="end" fill="#1e1e1e" stroke="#1e1e1e" stroke-width="0.22" >200</text>
<line x1="413.30" y1="289.90" x2="416.30" y2="289.90" stroke="#141414" stroke-width="1.45"/>
<text x="412.50" y="293.00" font-size="8.6" font-weight="bold" text-anchor="end" fill="#1e1e1e" stroke="#1e1e1e" stroke-width="0.22" >400</text>
<line x1="413.30" y1="272.90" x2="416.30" y2="272.90" stroke="#141414" stroke-width="1.45"/>
<text x="412.50" y="276.00" font-size="8.6" font-weight="bold" text-anchor="end" fill="#1e1e1e" stroke="#1e1e1e" stroke-width="0.22" >600</text>
<line x1="413.30" y1="255.90" x2="416.30" y2="255.90" stroke="#141414" stroke-width="1.45"/>
<text x="412.50" y="259.00" font-size="8.6" font-weight="bold" text-anchor="end" fill="#1e1e1e" stroke="#1e1e1e" stroke-width="0.22" >800</text>
<line x1="413.30" y1="238.90" x2="416.30" y2="238.90" stroke="#141414" stroke-width="1.45"/>
<text x="412.50" y="242.00" font-size="8.6" font-weight="bold" text-anchor="end" fill="#1e1e1e" stroke="#1e1e1e" stroke-width="0.22" >1,000</text>
<line x1="413.30" y1="221.90" x2="416.30" y2="221.90" stroke="#141414" stroke-width="1.45"/>
<text x="412.50" y="225.00" font-size="8.6" font-weight="bold" text-anchor="end" fill="#1e1e1e" stroke="#1e1e1e" stroke-width="0.22" >1,200</text>
<line x1="416.30" y1="323.90" x2="503.32" y2="323.90" stroke="#141414" stroke-width="1.45"/>
<line x1="416.00" y1="323.90" x2="416.00" y2="326.50" stroke="#141414" stroke-width="1.45"/>
<text x="416.00" y="336.10" font-size="8.6" font-weight="bold" text-anchor="middle" fill="#1e1e1e" stroke="#1e1e1e" stroke-width="0.22" >0</text>
<line x1="428.48" y1="323.90" x2="428.48" y2="326.50" stroke="#141414" stroke-width="1.45"/>
<text x="428.48" y="336.10" font-size="8.6" font-weight="bold" text-anchor="middle" fill="#1e1e1e" stroke="#1e1e1e" stroke-width="0.22" >5</text>
<line x1="440.95" y1="323.90" x2="440.95" y2="326.50" stroke="#141414" stroke-width="1.45"/>
<text x="440.95" y="336.10" font-size="8.6" font-weight="bold" text-anchor="middle" fill="#1e1e1e" stroke="#1e1e1e" stroke-width="0.22" >10</text>
<line x1="453.43" y1="323.90" x2="453.43" y2="326.50" stroke="#141414" stroke-width="1.45"/>
<text x="453.43" y="336.10" font-size="8.6" font-weight="bold" text-anchor="middle" fill="#1e1e1e" stroke="#1e1e1e" stroke-width="0.22" >15</text>
<line x1="465.90" y1="323.90" x2="465.90" y2="326.50" stroke="#141414" stroke-width="1.45"/>
<text x="465.90" y="336.10" font-size="8.6" font-weight="bold" text-anchor="middle" fill="#1e1e1e" stroke="#1e1e1e" stroke-width="0.22" >20</text>
<line x1="478.38" y1="323.90" x2="478.38" y2="326.50" stroke="#141414" stroke-width="1.45"/>
<text x="478.38" y="336.10" font-size="8.6" font-weight="bold" text-anchor="middle" fill="#1e1e1e" stroke="#1e1e1e" stroke-width="0.22" >25</text>
<line x1="490.85" y1="323.90" x2="490.85" y2="326.50" stroke="#141414" stroke-width="1.45"/>
<text x="490.85" y="336.10" font-size="8.6" font-weight="bold" text-anchor="middle" fill="#1e1e1e" stroke="#1e1e1e" stroke-width="0.22" >30</text>
<line x1="503.32" y1="323.90" x2="503.32" y2="326.50" stroke="#141414" stroke-width="1.45"/>
<text x="503.32" y="336.10" font-size="8.6" font-weight="bold" text-anchor="middle" fill="#1e1e1e" stroke="#1e1e1e" stroke-width="0.22" >35</text>
<text x="385.70" y="270.10" font-size="10.2" text-anchor="middle" fill="#1e1e1e" stroke="#1e1e1e" stroke-width="0.32" textLength="96.2" lengthAdjust="spacingAndGlyphs" transform="rotate(-90 385.70 270.10)" >Tumor volume (mm<tspan font-size="7.3" dy="-3.9">3</tspan><tspan dy="3.9">)</tspan></text>
<text x="400.00" y="349.50" font-size="9.7" fill="#1e1e1e" stroke="#1e1e1e" stroke-width="0.32" >Days after tumor inoculation</text>
<line x1="425.00" y1="228.20" x2="436.00" y2="228.20" stroke="#2db52d" stroke-width="1.2"/>
<circle cx="430.50" cy="228.20" r="1.8" fill="#fff" stroke="#2db52d" stroke-width="1.6"/>
<text x="442.00" y="231.19" font-size="8.3" fill="#1e1e1e" stroke="#1e1e1e" stroke-width="0.32" textLength="26.8" lengthAdjust="spacingAndGlyphs" >Control</text>
<line x1="425.00" y1="242.00" x2="436.00" y2="242.00" stroke="#e5545c" stroke-width="1.2"/>
<circle cx="430.50" cy="242.00" r="1.8" fill="#fff" stroke="#e5545c" stroke-width="1.6"/>
<text x="442.00" y="244.99" font-size="8.3" fill="#1e1e1e" stroke="#1e1e1e" stroke-width="0.32" >THIO</text>
<polyline points="416.30,323.90 441.10,309.60 448.50,302.20 460.70,303.20 466.50,301.50 478.50,290.70 486.10,279.60 495.80,272.70" fill="none" stroke="#e5545c" stroke-width="1.2" stroke-linejoin="round"/>
<line x1="448.50" y1="302.20" x2="448.50" y2="298.50" stroke="#e5545c" stroke-width="1.1"/>
<line x1="446.70" y1="298.50" x2="450.30" y2="298.50" stroke="#e5545c" stroke-width="1.1"/>
<line x1="478.50" y1="290.70" x2="478.50" y2="283.80" stroke="#e5545c" stroke-width="1.1"/>
<line x1="476.70" y1="283.80" x2="480.30" y2="283.80" stroke="#e5545c" stroke-width="1.1"/>
<line x1="486.10" y1="279.60" x2="486.10" y2="275.00" stroke="#e5545c" stroke-width="1.1"/>
<line x1="484.30" y1="275.00" x2="487.90" y2="275.00" stroke="#e5545c" stroke-width="1.1"/>
<line x1="495.80" y1="272.70" x2="495.80" y2="263.00" stroke="#e5545c" stroke-width="1.1"/>
<line x1="494.00" y1="263.00" x2="497.60" y2="263.00" stroke="#e5545c" stroke-width="1.1"/>
<circle cx="416.30" cy="323.90" r="2.1" fill="none" stroke="#e5545c" stroke-width="1.15"/>
<circle cx="441.10" cy="309.60" r="2.1" fill="none" stroke="#e5545c" stroke-width="1.15"/>
<circle cx="448.50" cy="302.20" r="2.1" fill="none" stroke="#e5545c" stroke-width="1.15"/>
<circle cx="460.70" cy="303.20" r="2.1" fill="none" stroke="#e5545c" stroke-width="1.15"/>
<circle cx="466.50" cy="301.50" r="2.1" fill="none" stroke="#e5545c" stroke-width="1.15"/>
<circle cx="478.50" cy="290.70" r="2.1" fill="none" stroke="#e5545c" stroke-width="1.15"/>
<circle cx="486.10" cy="279.60" r="2.1" fill="none" stroke="#e5545c" stroke-width="1.15"/>
<circle cx="495.80" cy="272.70" r="2.1" fill="none" stroke="#e5545c" stroke-width="1.15"/>
<polyline points="416.30,323.90 441.10,308.50 448.50,304.50 460.70,294.60 466.50,295.80 478.50,273.40 486.10,268.80 495.80,242.70" fill="none" stroke="#2db52d" stroke-width="1.2" stroke-linejoin="round"/>
<line x1="441.10" y1="308.50" x2="441.10" y2="304.50" stroke="#2db52d" stroke-width="1.1"/>
<line x1="439.30" y1="304.50" x2="442.90" y2="304.50" stroke="#2db52d" stroke-width="1.1"/>
<line x1="460.70" y1="294.60" x2="460.70" y2="287.70" stroke="#2db52d" stroke-width="1.1"/>
<line x1="458.90" y1="287.70" x2="462.50" y2="287.70" stroke="#2db52d" stroke-width="1.1"/>
<line x1="466.50" y1="295.80" x2="466.50" y2="287.70" stroke="#2db52d" stroke-width="1.1"/>
<line x1="464.70" y1="287.70" x2="468.30" y2="287.70" stroke="#2db52d" stroke-width="1.1"/>
<line x1="478.50" y1="273.40" x2="478.50" y2="261.20" stroke="#2db52d" stroke-width="1.1"/>
<line x1="476.70" y1="261.20" x2="480.30" y2="261.20" stroke="#2db52d" stroke-width="1.1"/>
<line x1="486.10" y1="268.80" x2="486.10" y2="257.70" stroke="#2db52d" stroke-width="1.1"/>
<line x1="484.30" y1="257.70" x2="487.90" y2="257.70" stroke="#2db52d" stroke-width="1.1"/>
<line x1="495.80" y1="242.70" x2="495.80" y2="224.70" stroke="#2db52d" stroke-width="1.1"/>
<line x1="494.00" y1="224.70" x2="497.60" y2="224.70" stroke="#2db52d" stroke-width="1.1"/>
<circle cx="416.30" cy="323.90" r="2.1" fill="none" stroke="#2db52d" stroke-width="1.15"/>
<circle cx="441.10" cy="308.50" r="2.1" fill="none" stroke="#2db52d" stroke-width="1.15"/>
<circle cx="448.50" cy="304.50" r="2.1" fill="none" stroke="#2db52d" stroke-width="1.15"/>
<circle cx="460.70" cy="294.60" r="2.1" fill="none" stroke="#2db52d" stroke-width="1.15"/>
<circle cx="466.50" cy="295.80" r="2.1" fill="none" stroke="#2db52d" stroke-width="1.15"/>
<circle cx="478.50" cy="273.40" r="2.1" fill="none" stroke="#2db52d" stroke-width="1.15"/>
<circle cx="486.10" cy="268.80" r="2.1" fill="none" stroke="#2db52d" stroke-width="1.15"/>
<circle cx="495.80" cy="242.70" r="2.1" fill="none" stroke="#2db52d" stroke-width="1.15"/>
<circle cx="416.30" cy="323.90" r="1.7" fill="#2aa02a" stroke="#1f9a1f" stroke-width="1.0"/>
<polyline points="502.20,243.80 506.60,243.80 506.60,269.90 502.20,269.90" fill="none" stroke="#555" stroke-width="1.0"/>
<text x="508.00" y="260.00" font-size="8.5" fill="#333" stroke="#333" stroke-width="0.32" >ns</text>
<text x="1.20" y="385.80" font-size="12" font-weight="bold" fill="#111" stroke="#111" stroke-width="0.22" >F</text>
<text x="200.20" y="377.90" font-size="8.2" fill="#222" stroke="#222" stroke-width="0.32" textLength="37.5" lengthAdjust="spacingAndGlyphs" >Hep55-1C</text>
<line x1="100.60" y1="391.57" x2="100.60" y2="494.33" stroke="#141414" stroke-width="1.45"/>
<line x1="97.60" y1="493.60" x2="100.60" y2="493.60" stroke="#141414" stroke-width="1.45"/>
<text x="96.80" y="496.62" font-size="8.4" font-weight="bold" text-anchor="end" fill="#1e1e1e" stroke="#1e1e1e" stroke-width="0.22" >0</text>
<line x1="97.60" y1="468.28" x2="100.60" y2="468.28" stroke="#141414" stroke-width="1.45"/>
<text x="96.80" y="471.30" font-size="8.4" font-weight="bold" text-anchor="end" fill="#1e1e1e" stroke="#1e1e1e" stroke-width="0.22" >500</text>
<line x1="97.60" y1="442.95" x2="100.60" y2="442.95" stroke="#141414" stroke-width="1.45"/>
<text x="96.80" y="445.97" font-size="8.4" font-weight="bold" text-anchor="end" fill="#1e1e1e" stroke="#1e1e1e" stroke-width="0.22" >1,000</text>
<line x1="97.60" y1="417.62" x2="100.60" y2="417.62" stroke="#141414" stroke-width="1.45"/>
<text x="96.80" y="420.65" font-size="8.4" font-weight="bold" text-anchor="end" fill="#1e1e1e" stroke="#1e1e1e" stroke-width="0.22" >1,500</text>
<line x1="97.60" y1="392.30" x2="100.60" y2="392.30" stroke="#141414" stroke-width="1.45"/>
<text x="96.80" y="395.32" font-size="8.4" font-weight="bold" text-anchor="end" fill="#1e1e1e" stroke="#1e1e1e" stroke-width="0.22" >2,000</text>
<line x1="100.60" y1="493.60" x2="346.60" y2="493.60" stroke="#141414" stroke-width="1.45"/>
<line x1="100.80" y1="493.60" x2="100.80" y2="496.20" stroke="#141414" stroke-width="1.45"/>
<text x="100.80" y="505.60" font-size="8.6" font-weight="bold" text-anchor="middle" fill="#1e1e1e" stroke="#1e1e1e" stroke-width="0.22" >0</text>
<line x1="113.09" y1="493.60" x2="113.09" y2="496.20" stroke="#141414" stroke-width="1.45"/>
<text x="113.09" y="505.60" font-size="8.6" font-weight="bold" text-anchor="middle" fill="#1e1e1e" stroke="#1e1e1e" stroke-width="0.22" >5</text>
<line x1="125.38" y1="493.60" x2="125.38" y2="496.20" stroke="#141414" stroke-width="1.45"/>
<text x="125.38" y="505.60" font-size="8.6" font-weight="bold" text-anchor="middle" fill="#1e1e1e" stroke="#1e1e1e" stroke-width="0.22" >10</text>
<line x1="137.67" y1="493.60" x2="137.67" y2="496.20" stroke="#141414" stroke-width="1.45"/>
<text x="137.67" y="505.60" font-size="8.6" font-weight="bold" text-anchor="middle" fill="#1e1e1e" stroke="#1e1e1e" stroke-width="0.22" >15</text>
<line x1="149.96" y1="493.60" x2="149.96" y2="496.20" stroke="#141414" stroke-width="1.45"/>
<text x="149.96" y="505.60" font-size="8.6" font-weight="bold" text-anchor="middle" fill="#1e1e1e" stroke="#1e1e1e" stroke-width="0.22" >20</text>
<line x1="162.25" y1="493.60" x2="162.25" y2="496.20" stroke="#141414" stroke-width="1.45"/>
<text x="162.25" y="505.60" font-size="8.6" font-weight="bold" text-anchor="middle" fill="#1e1e1e" stroke="#1e1e1e" stroke-width="0.22" >25</text>
<line x1="174.54" y1="493.60" x2="174.54" y2="496.20" stroke="#141414" stroke-width="1.45"/>
<text x="174.54" y="505.60" font-size="8.6" font-weight="bold" text-anchor="middle" fill="#1e1e1e" stroke="#1e1e1e" stroke-width="0.22" >30</text>
<line x1="186.83" y1="493.60" x2="186.83" y2="496.20" stroke="#141414" stroke-width="1.45"/>
<text x="186.83" y="505.60" font-size="8.6" font-weight="bold" text-anchor="middle" fill="#1e1e1e" stroke="#1e1e1e" stroke-width="0.22" >35</text>
<line x1="199.12" y1="493.60" x2="199.12" y2="496.20" stroke="#141414" stroke-width="1.45"/>
<text x="199.12" y="505.60" font-size="8.6" font-weight="bold" text-anchor="middle" fill="#1e1e1e" stroke="#1e1e1e" stroke-width="0.22" >40</text>
<line x1="211.41" y1="493.60" x2="211.41" y2="496.20" stroke="#141414" stroke-width="1.45"/>
<text x="211.41" y="505.60" font-size="8.6" font-weight="bold" text-anchor="middle" fill="#1e1e1e" stroke="#1e1e1e" stroke-width="0.22" >45</text>
<line x1="223.70" y1="493.60" x2="223.70" y2="496.20" stroke="#141414" stroke-width="1.45"/>
<text x="223.70" y="505.60" font-size="8.6" font-weight="bold" text-anchor="middle" fill="#1e1e1e" stroke="#1e1e1e" stroke-width="0.22" >50</text>
<line x1="235.99" y1="493.60" x2="235.99" y2="496.20" stroke="#141414" stroke-width="1.45"/>
<text x="235.99" y="505.60" font-size="8.6" font-weight="bold" text-anchor="middle" fill="#1e1e1e" stroke="#1e1e1e" stroke-width="0.22" >55</text>
<line x1="248.28" y1="493.60" x2="248.28" y2="496.20" stroke="#141414" stroke-width="1.45"/>
<text x="248.28" y="505.60" font-size="8.6" font-weight="bold" text-anchor="middle" fill="#1e1e1e" stroke="#1e1e1e" stroke-width="0.22" >60</text>
<line x1="260.57" y1="493.60" x2="260.57" y2="496.20" stroke="#141414" stroke-width="1.45"/>
<text x="260.57" y="505.60" font-size="8.6" font-weight="bold" text-anchor="middle" fill="#1e1e1e" stroke="#1e1e1e" stroke-width="0.22" >65</text>
<line x1="272.86" y1="493.60" x2="272.86" y2="496.20" stroke="#141414" stroke-width="1.45"/>
<text x="272.86" y="505.60" font-size="8.6" font-weight="bold" text-anchor="middle" fill="#1e1e1e" stroke="#1e1e1e" stroke-width="0.22" >70</text>
<line x1="285.15" y1="493.60" x2="285.15" y2="496.20" stroke="#141414" stroke-width="1.45"/>
<text x="285.15" y="505.60" font-size="8.6" font-weight="bold" text-anchor="middle" fill="#1e1e1e" stroke="#1e1e1e" stroke-width="0.22" >75</text>
<line x1="297.44" y1="493.60" x2="297.44" y2="496.20" stroke="#141414" stroke-width="1.45"/>
<text x="297.44" y="505.60" font-size="8.6" font-weight="bold" text-anchor="middle" fill="#1e1e1e" stroke="#1e1e1e" stroke-width="0.22" >80</text>
<line x1="309.73" y1="493.60" x2="309.73" y2="496.20" stroke="#141414" stroke-width="1.45"/>
<text x="309.73" y="505.60" font-size="8.6" font-weight="bold" text-anchor="middle" fill="#1e1e1e" stroke="#1e1e1e" stroke-width="0.22" >85</text>
<line x1="322.02" y1="493.60" x2="322.02" y2="496.20" stroke="#141414" stroke-width="1.45"/>
<text x="322.02" y="505.60" font-size="8.6" font-weight="bold" text-anchor="middle" fill="#1e1e1e" stroke="#1e1e1e" stroke-width="0.22" >90</text>
<line x1="334.31" y1="493.60" x2="334.31" y2="496.20" stroke="#141414" stroke-width="1.45"/>
<text x="334.31" y="505.60" font-size="8.6" font-weight="bold" text-anchor="middle" fill="#1e1e1e" stroke="#1e1e1e" stroke-width="0.22" >95</text>
<line x1="346.60" y1="493.60" x2="346.60" y2="496.20" stroke="#141414" stroke-width="1.45"/>
<text x="346.60" y="505.60" font-size="8.6" font-weight="bold" text-anchor="middle" fill="#1e1e1e" stroke="#1e1e1e" stroke-width="0.22" >100</text>
<text x="71.00" y="441.20" font-size="10.2" text-anchor="middle" fill="#1e1e1e" stroke="#1e1e1e" stroke-width="0.32" textLength="97.3" lengthAdjust="spacingAndGlyphs" transform="rotate(-90 71.00 441.20)" >Tumor volume (mm<tspan font-size="7.3" dy="-3.9">3</tspan><tspan dy="3.9">)</tspan></text>
<text x="164.20" y="520.40" font-size="9.6" fill="#1e1e1e" stroke="#1e1e1e" stroke-width="0.32" textLength="119.7" lengthAdjust="spacingAndGlyphs" >Days after tumor inoculation</text>
<text x="108.40" y="424.80" font-size="10.5" fill="#2a2a2a" stroke="#2a2a2a" stroke-width="0.32" textLength="51.2" lengthAdjust="spacingAndGlyphs" >5 × 10<tspan font-size="7.0" dy="-3.8">6</tspan><tspan dy="3.8">cells</tspan></text>
<text x="108.40" y="436.20" font-size="10.5" fill="#2a2a2a" stroke="#2a2a2a" stroke-width="0.32" textLength="33.9" lengthAdjust="spacingAndGlyphs" >injected</text>
<line x1="118.50" y1="441.90" x2="118.50" y2="480.00" stroke="#111" stroke-width="1.0"/>
<polygon points="116.3,478.8 120.7,478.8 118.5,484.0" fill="#111"/>
<line x1="350.50" y1="393.50" x2="361.50" y2="393.50" stroke="#2db52d" stroke-width="1.2"/>
<circle cx="356.00" cy="393.50" r="1.8" fill="#fff" stroke="#2db52d" stroke-width="1.6"/>
<text x="368.00" y="396.56" font-size="8.5" fill="#1e1e1e" stroke="#1e1e1e" stroke-width="0.32" textLength="27.3" lengthAdjust="spacingAndGlyphs" >Control</text>
<line x1="350.50" y1="407.00" x2="361.50" y2="407.00" stroke="#e5545c" stroke-width="1.2"/>
<circle cx="356.00" cy="407.00" r="1.8" fill="#fff" stroke="#e5545c" stroke-width="1.6"/>
<text x="368.00" y="410.06" font-size="8.5" fill="#1e1e1e" stroke="#1e1e1e" stroke-width="0.32" >THIO</text>
<line x1="350.50" y1="419.70" x2="361.50" y2="419.70" stroke="#7020a0" stroke-width="1.2"/>
<circle cx="356.00" cy="419.70" r="1.8" fill="#fff" stroke="#7020a0" stroke-width="1.6"/>
<text x="368.00" y="422.76" font-size="8.5" fill="#1e1e1e" stroke="#1e1e1e" stroke-width="0.32" >Libtayo</text>
<line x1="350.50" y1="433.00" x2="361.50" y2="433.00" stroke="#3040dc" stroke-width="1.2"/>
<circle cx="356.00" cy="433.00" r="1.8" fill="#fff" stroke="#3040dc" stroke-width="1.6"/>
<text x="368.00" y="436.06" font-size="8.5" fill="#1e1e1e" stroke="#1e1e1e" stroke-width="0.32" textLength="52.2" lengthAdjust="spacingAndGlyphs" >THIO+Libtayo</text>
<polyline points="100.60,493.60 118.00,489.00 125.50,490.00 132.40,490.00 140.00,490.00 147.60,489.50 156.80,490.00 167.00,491.00 172.30,490.50 181.50,492.00 192.00,492.50 201.40,492.50 209.00,492.50 218.80,492.50 226.00,492.50 235.80,492.50 240.70,492.50 250.50,492.30 258.00,492.20 267.80,492.00 275.60,491.80 285.50,491.80 292.30,491.20 299.50,491.50 310.00,491.20 319.80,491.00" fill="none" stroke="#3040dc" stroke-width="1.2" stroke-linejoin="round"/>
<line x1="319.80" y1="491.00" x2="319.80" y2="489.00" stroke="#3040dc" stroke-width="1.1"/>
<line x1="318.00" y1="489.00" x2="321.60" y2="489.00" stroke="#3040dc" stroke-width="1.1"/>
<circle cx="100.60" cy="493.60" r="2.1" fill="none" stroke="#3040dc" stroke-width="1.15"/>
<circle cx="118.00" cy="489.00" r="2.1" fill="none" stroke="#3040dc" stroke-width="1.15"/>
<circle cx="125.50" cy="490.00" r="2.1" fill="none" stroke="#3040dc" stroke-width="1.15"/>
<circle cx="132.40" cy="490.00" r="2.1" fill="none" stroke="#3040dc" stroke-width="1.15"/>
<circle cx="140.00" cy="490.00" r="2.1" fill="none" stroke="#3040dc" stroke-width="1.15"/>
<circle cx="147.60" cy="489.50" r="2.1" fill="none" stroke="#3040dc" stroke-width="1.15"/>
<circle cx="156.80" cy="490.00" r="2.1" fill="none" stroke="#3040dc" stroke-width="1.15"/>
<circle cx="167.00" cy="491.00" r="2.1" fill="none" stroke="#3040dc" stroke-width="1.15"/>
<circle cx="172.30" cy="490.50" r="2.1" fill="none" stroke="#3040dc" stroke-width="1.15"/>
<circle cx="181.50" cy="492.00" r="2.1" fill="none" stroke="#3040dc" stroke-width="1.15"/>
<circle cx="192.00" cy="492.50" r="2.1" fill="none" stroke="#3040dc" stroke-width="1.15"/>
<circle cx="201.40" cy="492.50" r="2.1" fill="none" stroke="#3040dc" stroke-width="1.15"/>
<circle cx="209.00" cy="492.50" r="2.1" fill="none" stroke="#3040dc" stroke-width="1.15"/>
<circle cx="218.80" cy="492.50" r="2.1" fill="none" stroke="#3040dc" stroke-width="1.15"/>
<circle cx="226.00" cy="492.50" r="2.1" fill="none" stroke="#3040dc" stroke-width="1.15"/>
<circle cx="235.80" cy="492.50" r="2.1" fill="none" stroke="#3040dc" stroke-width="1.15"/>
<circle cx="240.70" cy="492.50" r="2.1" fill="none" stroke="#3040dc" stroke-width="1.15"/>
<circle cx="250.50" cy="492.30" r="2.1" fill="none" stroke="#3040dc" stroke-width="1.15"/>
<circle cx="258.00" cy="492.20" r="2.1" fill="none" stroke="#3040dc" stroke-width="1.15"/>
<circle cx="267.80" cy="492.00" r="2.1" fill="none" stroke="#3040dc" stroke-width="1.15"/>
<circle cx="275.60" cy="491.80" r="2.1" fill="none" stroke="#3040dc" stroke-width="1.15"/>
<circle cx="285.50" cy="491.80" r="2.1" fill="none" stroke="#3040dc" stroke-width="1.15"/>
<circle cx="292.30" cy="491.20" r="2.1" fill="none" stroke="#3040dc" stroke-width="1.15"/>
<circle cx="299.50" cy="491.50" r="2.1" fill="none" stroke="#3040dc" stroke-width="1.15"/>
<circle cx="310.00" cy="491.20" r="2.1" fill="none" stroke="#3040dc" stroke-width="1.15"/>
<circle cx="319.80" cy="491.00" r="2.1" fill="none" stroke="#3040dc" stroke-width="1.15"/>
<polyline points="100.60,493.60 118.00,488.50 125.50,489.20 132.40,489.00 140.00,489.00 147.60,489.50 156.80,488.50 167.00,486.50 172.30,483.50 181.50,485.80 192.00,484.20 201.40,480.30 209.00,480.60 218.80,481.20 226.00,471.80 235.80,471.80 240.70,463.30 250.50,456.70 258.00,458.40 267.80,454.10 275.60,443.60 285.50,448.60 292.30,441.40 299.50,436.50 310.00,417.50 319.80,410.30" fill="none" stroke="#7020a0" stroke-width="1.2" stroke-linejoin="round"/>
<line x1="240.70" y1="463.30" x2="240.70" y2="455.00" stroke="#7020a0" stroke-width="1.1"/>
<line x1="238.90" y1="455.00" x2="242.50" y2="455.00" stroke="#7020a0" stroke-width="1.1"/>
<line x1="250.50" y1="456.70" x2="250.50" y2="449.50" stroke="#7020a0" stroke-width="1.1"/>
<line x1="248.70" y1="449.50" x2="252.30" y2="449.50" stroke="#7020a0" stroke-width="1.1"/>
<line x1="258.00" y1="458.40" x2="258.00" y2="453.50" stroke="#7020a0" stroke-width="1.1"/>
<line x1="256.20" y1="453.50" x2="259.80" y2="453.50" stroke="#7020a0" stroke-width="1.1"/>
<line x1="267.80" y1="454.10" x2="267.80" y2="448.60" stroke="#7020a0" stroke-width="1.1"/>
<line x1="266.00" y1="448.60" x2="269.60" y2="448.60" stroke="#7020a0" stroke-width="1.1"/>
<line x1="275.60" y1="443.60" x2="275.60" y2="433.80" stroke="#7020a0" stroke-width="1.1"/>
<line x1="273.80" y1="433.80" x2="277.40" y2="433.80" stroke="#7020a0" stroke-width="1.1"/>
<line x1="292.30" y1="441.40" x2="292.30" y2="430.60" stroke="#7020a0" stroke-width="1.1"/>
<line x1="290.50" y1="430.60" x2="294.10" y2="430.60" stroke="#7020a0" stroke-width="1.1"/>
<line x1="299.50" y1="436.50" x2="299.50" y2="426.30" stroke="#7020a0" stroke-width="1.1"/>
<line x1="297.70" y1="426.30" x2="301.30" y2="426.30" stroke="#7020a0" stroke-width="1.1"/>
<line x1="310.00" y1="417.50" x2="310.00" y2="400.20" stroke="#7020a0" stroke-width="1.1"/>
<line x1="308.20" y1="400.20" x2="311.80" y2="400.20" stroke="#7020a0" stroke-width="1.1"/>
<line x1="319.80" y1="410.30" x2="319.80" y2="401.20" stroke="#7020a0" stroke-width="1.1"/>
<line x1="318.00" y1="401.20" x2="321.60" y2="401.20" stroke="#7020a0" stroke-width="1.1"/>
<circle cx="100.60" cy="493.60" r="2.1" fill="none" stroke="#7020a0" stroke-width="1.15"/>
<circle cx="118.00" cy="488.50" r="2.1" fill="none" stroke="#7020a0" stroke-width="1.15"/>
<circle cx="125.50" cy="489.20" r="2.1" fill="none" stroke="#7020a0" stroke-width="1.15"/>
<circle cx="132.40" cy="489.00" r="2.1" fill="none" stroke="#7020a0" stroke-width="1.15"/>
<circle cx="140.00" cy="489.00" r="2.1" fill="none" stroke="#7020a0" stroke-width="1.15"/>
<circle cx="147.60" cy="489.50" r="2.1" fill="none" stroke="#7020a0" stroke-width="1.15"/>
<circle cx="156.80" cy="488.50" r="2.1" fill="none" stroke="#7020a0" stroke-width="1.15"/>
<circle cx="167.00" cy="486.50" r="2.1" fill="none" stroke="#7020a0" stroke-width="1.15"/>
<circle cx="172.30" cy="483.50" r="2.1" fill="none" stroke="#7020a0" stroke-width="1.15"/>
<circle cx="181.50" cy="485.80" r="2.1" fill="none" stroke="#7020a0" stroke-width="1.15"/>
<circle cx="192.00" cy="484.20" r="2.1" fill="none" stroke="#7020a0" stroke-width="1.15"/>
<circle cx="201.40" cy="480.30" r="2.1" fill="none" stroke="#7020a0" stroke-width="1.15"/>
<circle cx="209.00" cy="480.60" r="2.1" fill="none" stroke="#7020a0" stroke-width="1.15"/>
<circle cx="218.80" cy="481.20" r="2.1" fill="none" stroke="#7020a0" stroke-width="1.15"/>
<circle cx="226.00" cy="471.80" r="2.1" fill="none" stroke="#7020a0" stroke-width="1.15"/>
<circle cx="235.80" cy="471.80" r="2.1" fill="none" stroke="#7020a0" stroke-width="1.15"/>
<circle cx="240.70" cy="463.30" r="2.1" fill="none" stroke="#7020a0" stroke-width="1.15"/>
<circle cx="250.50" cy="456.70" r="2.1" fill="none" stroke="#7020a0" stroke-width="1.15"/>
<circle cx="258.00" cy="458.40" r="2.1" fill="none" stroke="#7020a0" stroke-width="1.15"/>
<circle cx="267.80" cy="454.10" r="2.1" fill="none" stroke="#7020a0" stroke-width="1.15"/>
<circle cx="275.60" cy="443.60" r="2.1" fill="none" stroke="#7020a0" stroke-width="1.15"/>
<circle cx="285.50" cy="448.60" r="2.1" fill="none" stroke="#7020a0" stroke-width="1.15"/>
<circle cx="292.30" cy="441.40" r="2.1" fill="none" stroke="#7020a0" stroke-width="1.15"/>
<circle cx="299.50" cy="436.50" r="2.1" fill="none" stroke="#7020a0" stroke-width="1.15"/>
<circle cx="310.00" cy="417.50" r="2.1" fill="none" stroke="#7020a0" stroke-width="1.15"/>
<circle cx="319.80" cy="410.30" r="2.1" fill="none" stroke="#7020a0" stroke-width="1.15"/>
<polyline points="100.60,493.60 118.00,488.50 125.50,489.50 132.40,489.00 140.00,488.80 147.60,489.50 156.80,489.50 167.00,491.00 172.30,491.50 181.50,492.50 192.00,493.00 201.40,493.00 209.00,493.00 218.80,493.00 226.00,493.00 235.80,492.50 240.70,492.00 250.50,490.00 258.00,488.80 267.80,487.80 275.60,486.10 285.50,483.90 292.30,482.90 299.50,481.20 310.00,476.30 319.80,463.90" fill="none" stroke="#e5545c" stroke-width="1.2" stroke-linejoin="round"/>
<line x1="267.80" y1="487.80" x2="267.80" y2="482.90" stroke="#e5545c" stroke-width="1.1"/>
<line x1="266.00" y1="482.90" x2="269.60" y2="482.90" stroke="#e5545c" stroke-width="1.1"/>
<line x1="275.60" y1="486.10" x2="275.60" y2="480.60" stroke="#e5545c" stroke-width="1.1"/>
<line x1="273.80" y1="480.60" x2="277.40" y2="480.60" stroke="#e5545c" stroke-width="1.1"/>
<line x1="285.50" y1="483.90" x2="285.50" y2="474.70" stroke="#e5545c" stroke-width="1.1"/>
<line x1="283.70" y1="474.70" x2="287.30" y2="474.70" stroke="#e5545c" stroke-width="1.1"/>
<line x1="292.30" y1="482.90" x2="292.30" y2="473.70" stroke="#e5545c" stroke-width="1.1"/>
<line x1="290.50" y1="473.70" x2="294.10" y2="473.70" stroke="#e5545c" stroke-width="1.1"/>
<line x1="299.50" y1="481.20" x2="299.50" y2="469.80" stroke="#e5545c" stroke-width="1.1"/>
<line x1="297.70" y1="469.80" x2="301.30" y2="469.80" stroke="#e5545c" stroke-width="1.1"/>
<line x1="310.00" y1="476.30" x2="310.00" y2="459.30" stroke="#e5545c" stroke-width="1.1"/>
<line x1="308.20" y1="459.30" x2="311.80" y2="459.30" stroke="#e5545c" stroke-width="1.1"/>
<line x1="319.80" y1="463.90" x2="319.80" y2="434.80" stroke="#e5545c" stroke-width="1.1"/>
<line x1="318.00" y1="434.80" x2="321.60" y2="434.80" stroke="#e5545c" stroke-width="1.1"/>
<circle cx="100.60" cy="493.60" r="2.1" fill="none" stroke="#e5545c" stroke-width="1.15"/>
<circle cx="118.00" cy="488.50" r="2.1" fill="none" stroke="#e5545c" stroke-width="1.15"/>
<circle cx="125.50" cy="489.50" r="2.1" fill="none" stroke="#e5545c" stroke-width="1.15"/>
<circle cx="132.40" cy="489.00" r="2.1" fill="none" stroke="#e5545c" stroke-width="1.15"/>
<circle cx="140.00" cy="488.80" r="2.1" fill="none" stroke="#e5545c" stroke-width="1.15"/>
<circle cx="147.60" cy="489.50" r="2.1" fill="none" stroke="#e5545c" stroke-width="1.15"/>
<circle cx="156.80" cy="489.50" r="2.1" fill="none" stroke="#e5545c" stroke-width="1.15"/>
<circle cx="167.00" cy="491.00" r="2.1" fill="none" stroke="#e5545c" stroke-width="1.15"/>
<circle cx="172.30" cy="491.50" r="2.1" fill="none" stroke="#e5545c" stroke-width="1.15"/>
<circle cx="181.50" cy="492.50" r="2.1" fill="none" stroke="#e5545c" stroke-width="1.15"/>
<circle cx="192.00" cy="493.00" r="2.1" fill="none" stroke="#e5545c" stroke-width="1.15"/>
<circle cx="201.40" cy="493.00" r="2.1" fill="none" stroke="#e5545c" stroke-width="1.15"/>
<circle cx="209.00" cy="493.00" r="2.1" fill="none" stroke="#e5545c" stroke-width="1.15"/>
<circle cx="218.80" cy="493.00" r="2.1" fill="none" stroke="#e5545c" stroke-width="1.15"/>
<circle cx="226.00" cy="493.00" r="2.1" fill="none" stroke="#e5545c" stroke-width="1.15"/>
<circle cx="235.80" cy="492.50" r="2.1" fill="none" stroke="#e5545c" stroke-width="1.15"/>
<circle cx="240.70" cy="492.00" r="2.1" fill="none" stroke="#e5545c" stroke-width="1.15"/>
<circle cx="250.50" cy="490.00" r="2.1" fill="none" stroke="#e5545c" stroke-width="1.15"/>
<circle cx="258.00" cy="488.80" r="2.1" fill="none" stroke="#e5545c" stroke-width="1.15"/>
<circle cx="267.80" cy="487.80" r="2.1" fill="none" stroke="#e5545c" stroke-width="1.15"/>
<circle cx="275.60" cy="486.10" r="2.1" fill="none" stroke="#e5545c" stroke-width="1.15"/>
<circle cx="285.50" cy="483.90" r="2.1" fill="none" stroke="#e5545c" stroke-width="1.15"/>
<circle cx="292.30" cy="482.90" r="2.1" fill="none" stroke="#e5545c" stroke-width="1.15"/>
<circle cx="299.50" cy="481.20" r="2.1" fill="none" stroke="#e5545c" stroke-width="1.15"/>
<circle cx="310.00" cy="476.30" r="2.1" fill="none" stroke="#e5545c" stroke-width="1.15"/>
<circle cx="319.80" cy="463.90" r="2.1" fill="none" stroke="#e5545c" stroke-width="1.15"/>
<polyline points="100.60,493.60 118.00,488.00 125.50,484.60 132.40,483.50 140.00,483.50 147.60,483.50 156.80,484.60 167.00,482.30 172.30,477.20 181.50,485.80 192.00,484.20 201.40,473.10 209.00,452.80 218.80,442.00 226.00,430.60 236.30,400.80" fill="none" stroke="#2db52d" stroke-width="1.2" stroke-linejoin="round"/>
<line x1="125.50" y1="484.60" x2="125.50" y2="481.00" stroke="#2db52d" stroke-width="1.1"/>
<line x1="123.70" y1="481.00" x2="127.30" y2="481.00" stroke="#2db52d" stroke-width="1.1"/>
<line x1="132.40" y1="483.50" x2="132.40" y2="479.30" stroke="#2db52d" stroke-width="1.1"/>
<line x1="130.60" y1="479.30" x2="134.20" y2="479.30" stroke="#2db52d" stroke-width="1.1"/>
<line x1="156.80" y1="484.60" x2="156.80" y2="481.40" stroke="#2db52d" stroke-width="1.1"/>
<line x1="155.00" y1="481.40" x2="158.60" y2="481.40" stroke="#2db52d" stroke-width="1.1"/>
<line x1="209.00" y1="452.80" x2="209.00" y2="434.80" stroke="#2db52d" stroke-width="1.1"/>
<line x1="207.20" y1="434.80" x2="210.80" y2="434.80" stroke="#2db52d" stroke-width="1.1"/>
<line x1="218.80" y1="442.00" x2="218.80" y2="424.70" stroke="#2db52d" stroke-width="1.1"/>
<line x1="217.00" y1="424.70" x2="220.60" y2="424.70" stroke="#2db52d" stroke-width="1.1"/>
<line x1="226.00" y1="430.60" x2="226.00" y2="403.40" stroke="#2db52d" stroke-width="1.1"/>
<line x1="224.20" y1="403.40" x2="227.80" y2="403.40" stroke="#2db52d" stroke-width="1.1"/>
<line x1="236.30" y1="400.80" x2="236.30" y2="392.30" stroke="#2db52d" stroke-width="1.1"/>
<line x1="234.50" y1="392.30" x2="238.10" y2="392.30" stroke="#2db52d" stroke-width="1.1"/>
<circle cx="100.60" cy="493.60" r="2.1" fill="none" stroke="#2db52d" stroke-width="1.15"/>
<circle cx="118.00" cy="488.00" r="2.1" fill="none" stroke="#2db52d" stroke-width="1.15"/>
<circle cx="125.50" cy="484.60" r="2.1" fill="none" stroke="#2db52d" stroke-width="1.15"/>
<circle cx="132.40" cy="483.50" r="2.1" fill="none" stroke="#2db52d" stroke-width="1.15"/>
<circle cx="140.00" cy="483.50" r="2.1" fill="none" stroke="#2db52d" stroke-width="1.15"/>
<circle cx="147.60" cy="483.50" r="2.1" fill="none" stroke="#2db52d" stroke-width="1.15"/>
<circle cx="156.80" cy="484.60" r="2.1" fill="none" stroke="#2db52d" stroke-width="1.15"/>
<circle cx="167.00" cy="482.30" r="2.1" fill="none" stroke="#2db52d" stroke-width="1.15"/>
<circle cx="172.30" cy="477.20" r="2.1" fill="none" stroke="#2db52d" stroke-width="1.15"/>
<circle cx="181.50" cy="485.80" r="2.1" fill="none" stroke="#2db52d" stroke-width="1.15"/>
<circle cx="192.00" cy="484.20" r="2.1" fill="none" stroke="#2db52d" stroke-width="1.15"/>
<circle cx="201.40" cy="473.10" r="2.1" fill="none" stroke="#2db52d" stroke-width="1.15"/>
<circle cx="209.00" cy="452.80" r="2.1" fill="none" stroke="#2db52d" stroke-width="1.15"/>
<circle cx="218.80" cy="442.00" r="2.1" fill="none" stroke="#2db52d" stroke-width="1.15"/>
<circle cx="226.00" cy="430.60" r="2.1" fill="none" stroke="#2db52d" stroke-width="1.15"/>
<circle cx="236.30" cy="400.80" r="2.1" fill="none" stroke="#2db52d" stroke-width="1.15"/>
<circle cx="100.60" cy="493.60" r="1.7" fill="#2aa02a" stroke="#1f9a1f" stroke-width="1.0"/>
<polyline points="335.50,411.60 340.40,411.60 340.40,490.00 335.50,490.00" fill="none" stroke="#555" stroke-width="1.0"/>
<polyline points="324.60,465.40 327.60,465.40 327.60,490.20 324.60,490.20" fill="none" stroke="#555" stroke-width="1.0"/>
<text x="342.70" y="454.80" font-size="8" fill="#333" stroke="#333" stroke-width="0.32" >****</text>
<text x="328.00" y="477.80" font-size="8.5" fill="#333" stroke="#333" stroke-width="0.32" >ns</text>
<text x="1.20" y="559.20" font-size="12" font-weight="bold" fill="#111" stroke="#111" stroke-width="0.22" >G</text>
<text x="172.90" y="545.80" font-size="8.2" fill="#222" stroke="#222" stroke-width="0.32" textLength="84.9" lengthAdjust="spacingAndGlyphs" >Hep55-1C rechallenge</text>
<line x1="91.80" y1="554.67" x2="91.80" y2="657.33" stroke="#141414" stroke-width="1.45"/>
<line x1="88.80" y1="656.60" x2="91.80" y2="656.60" stroke="#141414" stroke-width="1.45"/>
<text x="88.00" y="659.66" font-size="8.5" font-weight="bold" text-anchor="end" fill="#1e1e1e" stroke="#1e1e1e" stroke-width="0.22" >0</text>
<line x1="88.80" y1="639.73" x2="91.80" y2="639.73" stroke="#141414" stroke-width="1.45"/>
<text x="88.00" y="642.79" font-size="8.5" font-weight="bold" text-anchor="end" fill="#1e1e1e" stroke="#1e1e1e" stroke-width="0.22" >100</text>
<line x1="88.80" y1="622.87" x2="91.80" y2="622.87" stroke="#141414" stroke-width="1.45"/>
<text x="88.00" y="625.93" font-size="8.5" font-weight="bold" text-anchor="end" fill="#1e1e1e" stroke="#1e1e1e" stroke-width="0.22" >200</text>
<line x1="88.80" y1="606.00" x2="91.80" y2="606.00" stroke="#141414" stroke-width="1.45"/>
<text x="88.00" y="609.06" font-size="8.5" font-weight="bold" text-anchor="end" fill="#1e1e1e" stroke="#1e1e1e" stroke-width="0.22" >300</text>
<line x1="88.80" y1="589.13" x2="91.80" y2="589.13" stroke="#141414" stroke-width="1.45"/>
<text x="88.00" y="592.19" font-size="8.5" font-weight="bold" text-anchor="end" fill="#1e1e1e" stroke="#1e1e1e" stroke-width="0.22" >400</text>
<line x1="88.80" y1="572.27" x2="91.80" y2="572.27" stroke="#141414" stroke-width="1.45"/>
<text x="88.00" y="575.33" font-size="8.5" font-weight="bold" text-anchor="end" fill="#1e1e1e" stroke="#1e1e1e" stroke-width="0.22" >500</text>
<line x1="88.80" y1="555.40" x2="91.80" y2="555.40" stroke="#141414" stroke-width="1.45"/>
<text x="88.00" y="558.46" font-size="8.5" font-weight="bold" text-anchor="end" fill="#1e1e1e" stroke="#1e1e1e" stroke-width="0.22" >600</text>
<line x1="91.80" y1="656.60" x2="130.00" y2="656.60" stroke="#141414" stroke-width="1.45"/>
<line x1="91.80" y1="656.60" x2="91.80" y2="659.20" stroke="#141414" stroke-width="1.45"/>
<text x="91.80" y="668.80" font-size="8.5" font-weight="bold" text-anchor="middle" fill="#1e1e1e" stroke="#1e1e1e" stroke-width="0.22" >0</text>
<line x1="111.10" y1="656.60" x2="111.10" y2="659.20" stroke="#141414" stroke-width="1.45"/>
<text x="111.10" y="668.80" font-size="8.5" font-weight="bold" text-anchor="middle" fill="#1e1e1e" stroke="#1e1e1e" stroke-width="0.22" >50</text>
<line x1="130.00" y1="656.60" x2="130.00" y2="659.20" stroke="#141414" stroke-width="1.45"/>
<text x="130.00" y="668.80" font-size="8.5" font-weight="bold" text-anchor="middle" fill="#1e1e1e" stroke="#1e1e1e" stroke-width="0.22" >100</text>
<line x1="130.00" y1="654.00" x2="130.00" y2="659.20" stroke="#141414" stroke-width="1.45"/>
<line x1="144.80" y1="656.60" x2="399.00" y2="656.60" stroke="#141414" stroke-width="1.45"/>
<line x1="145.00" y1="656.60" x2="145.00" y2="659.20" stroke="#141414" stroke-width="1.45"/>
<text x="145.00" y="668.80" font-size="8.5" font-weight="bold" text-anchor="middle" fill="#1e1e1e" stroke="#1e1e1e" stroke-width="0.22" >110</text>
<line x1="170.40" y1="656.60" x2="170.40" y2="659.20" stroke="#141414" stroke-width="1.45"/>
<text x="170.40" y="668.80" font-size="8.5" font-weight="bold" text-anchor="middle" fill="#1e1e1e" stroke="#1e1e1e" stroke-width="0.22" >120</text>
<line x1="195.80" y1="656.60" x2="195.80" y2="659.20" stroke="#141414" stroke-width="1.45"/>
<text x="195.80" y="668.80" font-size="8.5" font-weight="bold" text-anchor="middle" fill="#1e1e1e" stroke="#1e1e1e" stroke-width="0.22" >130</text>
<line x1="221.20" y1="656.60" x2="221.20" y2="659.20" stroke="#141414" stroke-width="1.45"/>
<text x="221.20" y="668.80" font-size="8.5" font-weight="bold" text-anchor="middle" fill="#1e1e1e" stroke="#1e1e1e" stroke-width="0.22" >140</text>
<line x1="246.60" y1="656.60" x2="246.60" y2="659.20" stroke="#141414" stroke-width="1.45"/>
<text x="246.60" y="668.80" font-size="8.5" font-weight="bold" text-anchor="middle" fill="#1e1e1e" stroke="#1e1e1e" stroke-width="0.22" >150</text>
<line x1="272.00" y1="656.60" x2="272.00" y2="659.20" stroke="#141414" stroke-width="1.45"/>
<text x="272.00" y="668.80" font-size="8.5" font-weight="bold" text-anchor="middle" fill="#1e1e1e" stroke="#1e1e1e" stroke-width="0.22" >160</text>
<line x1="297.40" y1="656.60" x2="297.40" y2="659.20" stroke="#141414" stroke-width="1.45"/>
<text x="297.40" y="668.80" font-size="8.5" font-weight="bold" text-anchor="middle" fill="#1e1e1e" stroke="#1e1e1e" stroke-width="0.22" >170</text>
<line x1="322.80" y1="656.60" x2="322.80" y2="659.20" stroke="#141414" stroke-width="1.45"/>
<text x="322.80" y="668.80" font-size="8.5" font-weight="bold" text-anchor="middle" fill="#1e1e1e" stroke="#1e1e1e" stroke-width="0.22" >180</text>
<line x1="348.20" y1="656.60" x2="348.20" y2="659.20" stroke="#141414" stroke-width="1.45"/>
<text x="348.20" y="668.80" font-size="8.5" font-weight="bold" text-anchor="middle" fill="#1e1e1e" stroke="#1e1e1e" stroke-width="0.22" >190</text>
<line x1="373.60" y1="656.60" x2="373.60" y2="659.20" stroke="#141414" stroke-width="1.45"/>
<text x="373.60" y="668.80" font-size="8.5" font-weight="bold" text-anchor="middle" fill="#1e1e1e" stroke="#1e1e1e" stroke-width="0.22" >200</text>
<line x1="399.00" y1="656.60" x2="399.00" y2="659.20" stroke="#141414" stroke-width="1.45"/>
<text x="399.00" y="668.80" font-size="8.5" font-weight="bold" text-anchor="middle" fill="#1e1e1e" stroke="#1e1e1e" stroke-width="0.22" >210</text>
<line x1="144.80" y1="654.00" x2="144.80" y2="659.20" stroke="#141414" stroke-width="1.45"/>
<text x="70.80" y="605.00" font-size="10.2" text-anchor="middle" fill="#1e1e1e" stroke="#1e1e1e" stroke-width="0.32" textLength="94.6" lengthAdjust="spacingAndGlyphs" transform="rotate(-90 70.80 605.00)" >Tumor volume (mm<tspan font-size="7.3" dy="-3.9">3</tspan><tspan dy="3.9">)</tspan></text>
<text x="186.00" y="683.90" font-size="9.65" fill="#1e1e1e" stroke="#1e1e1e" stroke-width="0.32" textLength="120.2" lengthAdjust="spacingAndGlyphs" >Days after tumor inoculation</text>
<text x="129.60" y="593.60" font-size="10.5" fill="#2a2a2a" stroke="#2a2a2a" stroke-width="0.32" textLength="56.0" lengthAdjust="spacingAndGlyphs" >10 × 10<tspan font-size="7.0" dy="-3.8">6</tspan><tspan dy="3.8">cells</tspan></text>
<text x="129.60" y="605.20" font-size="10.5" fill="#2a2a2a" stroke="#2a2a2a" stroke-width="0.32" textLength="33.9" lengthAdjust="spacingAndGlyphs" >injected</text>
<line x1="151.50" y1="614.20" x2="151.50" y2="645.00" stroke="#111" stroke-width="1.0"/>
<polygon points="149.3,643.8 153.7,643.8 151.5,649.0" fill="#111"/>
<line x1="359.10" y1="562.30" x2="370.10" y2="562.30" stroke="#858585" stroke-width="1.2"/>
<circle cx="364.60" cy="562.30" r="1.8" fill="#fff" stroke="#858585" stroke-width="1.6"/>
<text x="375.80" y="565.32" font-size="8.4" fill="#1e1e1e" stroke="#1e1e1e" stroke-width="0.32" textLength="50.0" lengthAdjust="spacingAndGlyphs" >Naïve control</text>
<line x1="359.10" y1="574.30" x2="370.10" y2="574.30" stroke="#e5545c" stroke-width="1.2"/>
<circle cx="364.60" cy="574.30" r="1.8" fill="#fff" stroke="#e5545c" stroke-width="1.6"/>
<text x="375.80" y="577.32" font-size="8.4" fill="#1e1e1e" stroke="#1e1e1e" stroke-width="0.32" >THIO</text>
<line x1="359.10" y1="586.10" x2="370.10" y2="586.10" stroke="#2a2ad0" stroke-width="1.2"/>
<circle cx="364.60" cy="586.10" r="1.8" fill="#4a4ae0" stroke="#2a2ad0" stroke-width="1.6"/>
<text x="375.80" y="589.12" font-size="8.4" fill="#1e1e1e" stroke="#1e1e1e" stroke-width="0.32" textLength="51.9" lengthAdjust="spacingAndGlyphs" >THIO+Libtayo</text>
<polyline points="154.50,657.00 172.70,643.80 184.50,644.60 193.00,646.50 203.20,648.80 210.80,649.40 220.80,648.20 228.80,643.80 243.80,643.80 256.50,631.90 264.30,629.30 274.30,628.50 282.00,617.00 292.30,609.90 300.00,594.20" fill="none" stroke="#858585" stroke-width="1.2" stroke-linejoin="round"/>
<line x1="172.70" y1="643.80" x2="172.70" y2="640.80" stroke="#858585" stroke-width="1.1"/>
<line x1="170.90" y1="640.80" x2="174.50" y2="640.80" stroke="#858585" stroke-width="1.1"/>
<line x1="256.50" y1="631.90" x2="256.50" y2="628.80" stroke="#858585" stroke-width="1.1"/>
<line x1="254.70" y1="628.80" x2="258.30" y2="628.80" stroke="#858585" stroke-width="1.1"/>
<line x1="264.30" y1="629.30" x2="264.30" y2="623.50" stroke="#858585" stroke-width="1.1"/>
<line x1="262.50" y1="623.50" x2="266.10" y2="623.50" stroke="#858585" stroke-width="1.1"/>
<line x1="274.30" y1="628.50" x2="274.30" y2="618.50" stroke="#858585" stroke-width="1.1"/>
<line x1="272.50" y1="618.50" x2="276.10" y2="618.50" stroke="#858585" stroke-width="1.1"/>
<line x1="282.00" y1="617.00" x2="282.00" y2="608.50" stroke="#858585" stroke-width="1.1"/>
<line x1="280.20" y1="608.50" x2="283.80" y2="608.50" stroke="#858585" stroke-width="1.1"/>
<line x1="292.30" y1="609.90" x2="292.30" y2="598.10" stroke="#858585" stroke-width="1.1"/>
<line x1="290.50" y1="598.10" x2="294.10" y2="598.10" stroke="#858585" stroke-width="1.1"/>
<line x1="300.00" y1="594.20" x2="300.00" y2="575.30" stroke="#858585" stroke-width="1.1"/>
<line x1="298.20" y1="575.30" x2="301.80" y2="575.30" stroke="#858585" stroke-width="1.1"/>
<circle cx="154.50" cy="657.00" r="2.1" fill="none" stroke="#858585" stroke-width="1.15"/>
<circle cx="172.70" cy="643.80" r="2.1" fill="none" stroke="#858585" stroke-width="1.15"/>
<circle cx="184.50" cy="644.60" r="2.1" fill="none" stroke="#858585" stroke-width="1.15"/>
<circle cx="193.00" cy="646.50" r="2.1" fill="none" stroke="#858585" stroke-width="1.15"/>
<circle cx="203.20" cy="648.80" r="2.1" fill="none" stroke="#858585" stroke-width="1.15"/>
<circle cx="210.80" cy="649.40" r="2.1" fill="none" stroke="#858585" stroke-width="1.15"/>
<circle cx="220.80" cy="648.20" r="2.1" fill="none" stroke="#858585" stroke-width="1.15"/>
<circle cx="228.80" cy="643.80" r="2.1" fill="none" stroke="#858585" stroke-width="1.15"/>
<circle cx="243.80" cy="643.80" r="2.1" fill="none" stroke="#858585" stroke-width="1.15"/>
<circle cx="256.50" cy="631.90" r="2.1" fill="none" stroke="#858585" stroke-width="1.15"/>
<circle cx="264.30" cy="629.30" r="2.1" fill="none" stroke="#858585" stroke-width="1.15"/>
<circle cx="274.30" cy="628.50" r="2.1" fill="none" stroke="#858585" stroke-width="1.15"/>
<circle cx="282.00" cy="617.00" r="2.1" fill="none" stroke="#858585" stroke-width="1.15"/>
<circle cx="292.30" cy="609.90" r="2.1" fill="none" stroke="#858585" stroke-width="1.15"/>
<circle cx="300.00" cy="594.20" r="2.1" fill="none" stroke="#858585" stroke-width="1.15"/>
<polyline points="154.50,657.00 167.80,648.10 172.70,648.80 185.30,652.70 193.00,655.00 203.20,656.00 210.80,656.30" fill="none" stroke="#3040dc" stroke-width="1.2" stroke-linejoin="round"/>
<line x1="167.80" y1="648.10" x2="167.80" y2="643.20" stroke="#3040dc" stroke-width="1.1"/>
<line x1="166.00" y1="643.20" x2="169.60" y2="643.20" stroke="#3040dc" stroke-width="1.1"/>
<circle cx="154.50" cy="657.00" r="2.1" fill="none" stroke="#3040dc" stroke-width="1.15"/>
<circle cx="167.80" cy="648.10" r="2.1" fill="none" stroke="#3040dc" stroke-width="1.15"/>
<circle cx="172.70" cy="648.80" r="2.1" fill="none" stroke="#3040dc" stroke-width="1.15"/>
<circle cx="185.30" cy="652.70" r="2.1" fill="none" stroke="#3040dc" stroke-width="1.15"/>
<circle cx="193.00" cy="655.00" r="2.1" fill="none" stroke="#3040dc" stroke-width="1.15"/>
<circle cx="203.20" cy="656.00" r="2.1" fill="none" stroke="#3040dc" stroke-width="1.15"/>
<circle cx="210.80" cy="656.30" r="2.1" fill="none" stroke="#3040dc" stroke-width="1.15"/>
<polyline points="154.50,657.00 167.80,652.40 172.70,645.50 185.30,644.70 193.00,649.60 203.20,652.70 210.80,655.00 220.80,655.30 228.80,655.80 243.80,655.80 256.50,655.80 264.20,655.80 273.80,655.80 281.90,655.80 291.20,655.80 299.70,655.80 310.30,655.80 317.70,655.80 327.60,655.80 345.40,655.80 353.50,655.80 363.40,655.80 370.80,655.80 383.50,655.80 391.50,655.80" fill="none" stroke="#e5545c" stroke-width="1.2" stroke-linejoin="round"/>
<line x1="172.70" y1="645.50" x2="172.70" y2="642.50" stroke="#e5545c" stroke-width="1.1"/>
<line x1="170.90" y1="642.50" x2="174.50" y2="642.50" stroke="#e5545c" stroke-width="1.1"/>
<circle cx="154.50" cy="657.00" r="2.1" fill="none" stroke="#e5545c" stroke-width="1.15"/>
<circle cx="167.80" cy="652.40" r="2.1" fill="none" stroke="#e5545c" stroke-width="1.15"/>
<circle cx="172.70" cy="645.50" r="2.1" fill="none" stroke="#e5545c" stroke-width="1.15"/>
<circle cx="185.30" cy="644.70" r="2.1" fill="none" stroke="#e5545c" stroke-width="1.15"/>
<circle cx="193.00" cy="649.60" r="2.1" fill="none" stroke="#e5545c" stroke-width="1.15"/>
<circle cx="203.20" cy="652.70" r="2.1" fill="none" stroke="#e5545c" stroke-width="1.15"/>
<circle cx="210.80" cy="655.00" r="2.1" fill="none" stroke="#e5545c" stroke-width="1.15"/>
<circle cx="220.80" cy="655.30" r="2.1" fill="none" stroke="#e5545c" stroke-width="1.15"/>
<circle cx="228.80" cy="655.80" r="2.1" fill="none" stroke="#e5545c" stroke-width="1.15"/>
<circle cx="243.80" cy="655.80" r="2.1" fill="none" stroke="#e5545c" stroke-width="1.15"/>
<circle cx="256.50" cy="655.80" r="2.1" fill="none" stroke="#e5545c" stroke-width="1.15"/>
<circle cx="264.20" cy="655.80" r="2.1" fill="none" stroke="#e5545c" stroke-width="1.15"/>
<circle cx="273.80" cy="655.80" r="2.1" fill="none" stroke="#e5545c" stroke-width="1.15"/>
<circle cx="281.90" cy="655.80" r="2.1" fill="none" stroke="#e5545c" stroke-width="1.15"/>
<circle cx="291.20" cy="655.80" r="2.1" fill="none" stroke="#e5545c" stroke-width="1.15"/>
<circle cx="299.70" cy="655.80" r="2.1" fill="none" stroke="#e5545c" stroke-width="1.15"/>
<circle cx="310.30" cy="655.80" r="2.1" fill="none" stroke="#e5545c" stroke-width="1.15"/>
<circle cx="317.70" cy="655.80" r="2.1" fill="none" stroke="#e5545c" stroke-width="1.15"/>
<circle cx="327.60" cy="655.80" r="2.1" fill="none" stroke="#e5545c" stroke-width="1.15"/>
<circle cx="345.40" cy="655.80" r="2.1" fill="none" stroke="#e5545c" stroke-width="1.15"/>
<circle cx="353.50" cy="655.80" r="2.1" fill="none" stroke="#e5545c" stroke-width="1.15"/>
<circle cx="363.40" cy="655.80" r="2.1" fill="none" stroke="#e5545c" stroke-width="1.15"/>
<circle cx="370.80" cy="655.80" r="2.1" fill="none" stroke="#e5545c" stroke-width="1.15"/>
<circle cx="383.50" cy="655.80" r="2.1" fill="none" stroke="#e5545c" stroke-width="1.15"/>
<circle cx="391.50" cy="655.80" r="2.1" fill="none" stroke="#e5545c" stroke-width="1.15"/>
</svg>
</body></html>
